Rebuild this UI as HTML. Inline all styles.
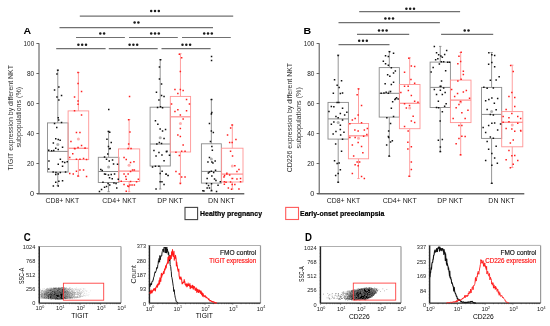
<!DOCTYPE html><html><head><meta charset="utf-8"><style>html,body{margin:0;padding:0;background:#fff;overflow:hidden}svg{display:block;filter:blur(0.35px)}text{font-family:"Liberation Sans",sans-serif}</style></head><body><svg width="550" height="326" viewBox="0 0 550 326" font-family="Liberation Sans, sans-serif">
<rect width="550" height="326" fill="#fff"/>
<line x1="39.00" y1="43.30" x2="39.00" y2="193.80" stroke="#3a3a3a" stroke-width="0.9"/>
<line x1="37.00" y1="193.80" x2="244.30" y2="193.80" stroke="#666" stroke-width="1.4"/>
<line x1="36.40" y1="193.50" x2="39.00" y2="193.50" stroke="#555" stroke-width="0.9"/>
<text x="30.10" y="195.90" font-size="6.6" fill="#222" font-weight="normal" textLength="4.09" lengthAdjust="spacingAndGlyphs">0</text>
<line x1="36.40" y1="163.50" x2="39.00" y2="163.50" stroke="#555" stroke-width="0.9"/>
<text x="27.00" y="165.90" font-size="6.6" fill="#222" font-weight="normal" textLength="7.19" lengthAdjust="spacingAndGlyphs">20</text>
<line x1="36.40" y1="133.50" x2="39.00" y2="133.50" stroke="#555" stroke-width="0.9"/>
<text x="27.00" y="135.90" font-size="6.6" fill="#222" font-weight="normal" textLength="7.19" lengthAdjust="spacingAndGlyphs">40</text>
<line x1="36.40" y1="103.50" x2="39.00" y2="103.50" stroke="#555" stroke-width="0.9"/>
<text x="27.00" y="105.90" font-size="6.6" fill="#222" font-weight="normal" textLength="7.19" lengthAdjust="spacingAndGlyphs">60</text>
<line x1="36.40" y1="73.50" x2="39.00" y2="73.50" stroke="#555" stroke-width="0.9"/>
<text x="27.00" y="75.90" font-size="6.6" fill="#222" font-weight="normal" textLength="7.19" lengthAdjust="spacingAndGlyphs">80</text>
<line x1="36.40" y1="43.50" x2="39.00" y2="43.50" stroke="#555" stroke-width="0.9"/>
<text x="23.60" y="45.90" font-size="6.6" fill="#222" font-weight="normal" textLength="10.59" lengthAdjust="spacingAndGlyphs">100</text>
<text x="23.42" y="34.00" font-size="9.6" fill="#000" font-weight="bold" textLength="7.65" lengthAdjust="spacingAndGlyphs">A</text>
<text transform="translate(12.60,170.42) rotate(-90)" font-size="7.0" fill="#333" textLength="105.34" lengthAdjust="spacingAndGlyphs">TIGIT expression by different NKT</text>
<text transform="translate(21.20,147.43) rotate(-90)" font-size="7.1" fill="#333" textLength="60.45" lengthAdjust="spacingAndGlyphs">subpopulations (%)</text>
<line x1="57.80" y1="70.10" x2="57.80" y2="122.90" stroke="#8a8a8a" stroke-width="0.9"/>
<line x1="57.80" y1="172.00" x2="57.80" y2="185.70" stroke="#8a8a8a" stroke-width="0.9"/>
<line x1="56.60" y1="70.10" x2="59.00" y2="70.10" stroke="#8a8a8a" stroke-width="0.9"/>
<line x1="56.60" y1="185.70" x2="59.00" y2="185.70" stroke="#8a8a8a" stroke-width="0.9"/>
<rect x="47.50" y="122.90" width="20.60" height="49.10" fill="none" stroke="#8a8a8a" stroke-width="0.9"/>
<line x1="47.50" y1="151.40" x2="68.10" y2="151.40" stroke="#8a8a8a" stroke-width="1.0"/>
<circle cx="57.80" cy="144.60" r="1.5" fill="#b0b0b0"/>
<line x1="78.40" y1="72.50" x2="78.40" y2="110.90" stroke="#ff9494" stroke-width="0.9"/>
<line x1="78.40" y1="159.60" x2="78.40" y2="176.20" stroke="#ff9494" stroke-width="0.9"/>
<line x1="77.20" y1="72.50" x2="79.60" y2="72.50" stroke="#ff9494" stroke-width="0.9"/>
<line x1="77.20" y1="176.20" x2="79.60" y2="176.20" stroke="#ff9494" stroke-width="0.9"/>
<rect x="68.10" y="110.90" width="20.60" height="48.70" fill="none" stroke="#ff9494" stroke-width="0.9"/>
<line x1="68.10" y1="148.30" x2="88.70" y2="148.30" stroke="#ff9494" stroke-width="1.3"/>
<circle cx="78.40" cy="139.00" r="1.5" fill="#ffb0b0"/>
<line x1="108.60" y1="131.30" x2="108.60" y2="157.30" stroke="#8a8a8a" stroke-width="0.9"/>
<line x1="108.60" y1="182.50" x2="108.60" y2="191.70" stroke="#8a8a8a" stroke-width="0.9"/>
<line x1="107.40" y1="131.30" x2="109.80" y2="131.30" stroke="#8a8a8a" stroke-width="0.9"/>
<line x1="107.40" y1="191.70" x2="109.80" y2="191.70" stroke="#8a8a8a" stroke-width="0.9"/>
<rect x="98.30" y="157.30" width="20.60" height="25.20" fill="none" stroke="#8a8a8a" stroke-width="0.9"/>
<line x1="98.30" y1="171.50" x2="118.90" y2="171.50" stroke="#8a8a8a" stroke-width="1.0"/>
<circle cx="108.60" cy="166.90" r="1.5" fill="#b0b0b0"/>
<line x1="129.10" y1="119.50" x2="129.10" y2="148.90" stroke="#ff9494" stroke-width="0.9"/>
<line x1="129.10" y1="181.50" x2="129.10" y2="191.70" stroke="#ff9494" stroke-width="0.9"/>
<line x1="127.90" y1="119.50" x2="130.30" y2="119.50" stroke="#ff9494" stroke-width="0.9"/>
<line x1="127.90" y1="191.70" x2="130.30" y2="191.70" stroke="#ff9494" stroke-width="0.9"/>
<rect x="118.50" y="148.90" width="21.20" height="32.60" fill="none" stroke="#ff9494" stroke-width="0.9"/>
<line x1="118.50" y1="171.10" x2="139.70" y2="171.10" stroke="#ff9494" stroke-width="1.3"/>
<circle cx="129.10" cy="165.20" r="1.5" fill="#ffb0b0"/>
<line x1="160.20" y1="59.60" x2="160.20" y2="107.20" stroke="#8a8a8a" stroke-width="0.9"/>
<line x1="160.20" y1="166.00" x2="160.20" y2="189.00" stroke="#8a8a8a" stroke-width="0.9"/>
<line x1="159.00" y1="59.60" x2="161.40" y2="59.60" stroke="#8a8a8a" stroke-width="0.9"/>
<line x1="159.00" y1="189.00" x2="161.40" y2="189.00" stroke="#8a8a8a" stroke-width="0.9"/>
<rect x="150.10" y="107.20" width="20.20" height="58.80" fill="none" stroke="#8a8a8a" stroke-width="0.9"/>
<line x1="150.10" y1="144.00" x2="170.30" y2="144.00" stroke="#8a8a8a" stroke-width="1.0"/>
<circle cx="160.20" cy="137.70" r="1.5" fill="#b0b0b0"/>
<line x1="180.45" y1="53.70" x2="180.45" y2="96.40" stroke="#ff9494" stroke-width="0.9"/>
<line x1="180.45" y1="152.00" x2="180.45" y2="183.00" stroke="#ff9494" stroke-width="0.9"/>
<line x1="179.25" y1="53.70" x2="181.65" y2="53.70" stroke="#ff9494" stroke-width="0.9"/>
<line x1="179.25" y1="183.00" x2="181.65" y2="183.00" stroke="#ff9494" stroke-width="0.9"/>
<rect x="170.30" y="96.40" width="20.30" height="55.60" fill="none" stroke="#ff9494" stroke-width="0.9"/>
<line x1="170.30" y1="116.80" x2="190.60" y2="116.80" stroke="#ff9494" stroke-width="1.3"/>
<circle cx="180.45" cy="123.40" r="1.5" fill="#ffb0b0"/>
<line x1="211.35" y1="99.60" x2="211.35" y2="143.80" stroke="#8a8a8a" stroke-width="0.9"/>
<line x1="211.35" y1="183.10" x2="211.35" y2="191.00" stroke="#8a8a8a" stroke-width="0.9"/>
<line x1="210.15" y1="99.60" x2="212.55" y2="99.60" stroke="#8a8a8a" stroke-width="0.9"/>
<line x1="210.15" y1="191.00" x2="212.55" y2="191.00" stroke="#8a8a8a" stroke-width="0.9"/>
<rect x="201.40" y="143.80" width="19.90" height="39.30" fill="none" stroke="#8a8a8a" stroke-width="0.9"/>
<line x1="201.40" y1="171.40" x2="221.30" y2="171.40" stroke="#8a8a8a" stroke-width="1.0"/>
<circle cx="211.35" cy="159.00" r="1.5" fill="#b0b0b0"/>
<line x1="232.30" y1="125.00" x2="232.30" y2="148.20" stroke="#ff9494" stroke-width="0.9"/>
<line x1="232.30" y1="182.00" x2="232.30" y2="189.00" stroke="#ff9494" stroke-width="0.9"/>
<line x1="231.10" y1="125.00" x2="233.50" y2="125.00" stroke="#ff9494" stroke-width="0.9"/>
<line x1="231.10" y1="189.00" x2="233.50" y2="189.00" stroke="#ff9494" stroke-width="0.9"/>
<rect x="221.60" y="148.20" width="21.40" height="33.80" fill="none" stroke="#ff9494" stroke-width="0.9"/>
<line x1="221.60" y1="174.10" x2="243.00" y2="174.10" stroke="#ff9494" stroke-width="1.3"/>
<circle cx="232.30" cy="165.90" r="1.5" fill="#ffb0b0"/>
<path fill="#111" d="M57.1 69.5h1.5v1.5h-1.5zM56.2 73.2h1.5v1.5h-1.5zM58.1 86.2h1.5v1.5h-1.5zM53.8 89.2h1.5v1.5h-1.5zM56.2 96.2h1.5v1.5h-1.5zM60.8 94.8h1.5v1.5h-1.5zM58.1 99.3h1.5v1.5h-1.5zM57.5 117.0h1.5v1.5h-1.5zM57.9 119.2h1.5v1.5h-1.5zM53.8 122.8h1.5v1.5h-1.5zM60.8 121.8h1.5v1.5h-1.5zM56.0 126.8h1.5v1.5h-1.5zM55.0 137.9h1.5v1.5h-1.5zM57.5 138.8h1.5v1.5h-1.5zM59.4 139.4h1.5v1.5h-1.5zM52.6 142.3h1.5v1.5h-1.5zM61.8 146.4h1.5v1.5h-1.5zM55.0 147.6h1.5v1.5h-1.5zM57.5 148.7h1.5v1.5h-1.5zM50.9 150.1h1.5v1.5h-1.5zM48.0 149.4h1.5v1.5h-1.5zM53.0 149.8h1.5v1.5h-1.5zM59.6 158.6h1.5v1.5h-1.5zM61.8 161.1h1.5v1.5h-1.5zM64.0 161.8h1.5v1.5h-1.5zM66.5 161.1h1.5v1.5h-1.5zM57.5 163.6h1.5v1.5h-1.5zM61.8 165.4h1.5v1.5h-1.5zM48.2 160.3h1.5v1.5h-1.5zM48.0 168.3h1.5v1.5h-1.5zM52.4 171.2h1.5v1.5h-1.5zM55.2 171.7h1.5v1.5h-1.5zM59.6 171.7h1.5v1.5h-1.5zM64.8 171.2h1.5v1.5h-1.5zM55.0 173.8h1.5v1.5h-1.5zM57.5 173.2h1.5v1.5h-1.5zM55.0 181.4h1.5v1.5h-1.5zM58.1 180.4h1.5v1.5h-1.5zM61.8 179.9h1.5v1.5h-1.5zM52.6 185.3h1.5v1.5h-1.5zM57.5 185.3h1.5v1.5h-1.5zM108.0 108.7h1.5v1.5h-1.5zM107.7 130.8h1.5v1.5h-1.5zM109.0 131.6h1.5v1.5h-1.5zM106.2 138.4h1.5v1.5h-1.5zM110.5 141.8h1.5v1.5h-1.5zM107.7 145.8h1.5v1.5h-1.5zM109.5 147.8h1.5v1.5h-1.5zM108.8 147.9h1.5v1.5h-1.5zM107.0 153.3h1.5v1.5h-1.5zM103.8 156.2h1.5v1.5h-1.5zM105.8 158.6h1.5v1.5h-1.5zM108.5 160.3h1.5v1.5h-1.5zM111.8 159.2h1.5v1.5h-1.5zM112.8 163.2h1.5v1.5h-1.5zM116.8 163.6h1.5v1.5h-1.5zM100.0 168.8h1.5v1.5h-1.5zM101.5 169.8h1.5v1.5h-1.5zM103.8 173.2h1.5v1.5h-1.5zM104.8 173.4h1.5v1.5h-1.5zM107.7 174.2h1.5v1.5h-1.5zM110.5 173.8h1.5v1.5h-1.5zM113.8 173.2h1.5v1.5h-1.5zM108.8 177.1h1.5v1.5h-1.5zM111.5 178.1h1.5v1.5h-1.5zM117.5 178.6h1.5v1.5h-1.5zM102.2 181.4h1.5v1.5h-1.5zM107.3 182.8h1.5v1.5h-1.5zM113.2 182.2h1.5v1.5h-1.5zM115.3 182.8h1.5v1.5h-1.5zM109.0 184.3h1.5v1.5h-1.5zM105.8 185.8h1.5v1.5h-1.5zM103.8 186.6h1.5v1.5h-1.5zM116.0 187.2h1.5v1.5h-1.5zM100.8 188.8h1.5v1.5h-1.5zM98.7 190.8h1.5v1.5h-1.5zM159.8 58.9h1.5v1.5h-1.5zM158.7 66.3h1.5v1.5h-1.5zM158.7 78.2h1.5v1.5h-1.5zM160.8 83.3h1.5v1.5h-1.5zM155.7 91.5h1.5v1.5h-1.5zM160.8 94.8h1.5v1.5h-1.5zM163.3 95.8h1.5v1.5h-1.5zM158.2 99.3h1.5v1.5h-1.5zM156.8 106.7h1.5v1.5h-1.5zM161.8 107.0h1.5v1.5h-1.5zM159.8 106.0h1.5v1.5h-1.5zM154.7 120.0h1.5v1.5h-1.5zM157.1 123.5h1.5v1.5h-1.5zM159.4 128.2h1.5v1.5h-1.5zM161.8 130.2h1.5v1.5h-1.5zM164.8 128.7h1.5v1.5h-1.5zM163.3 137.8h1.5v1.5h-1.5zM158.6 141.8h1.5v1.5h-1.5zM156.1 143.2h1.5v1.5h-1.5zM160.8 142.8h1.5v1.5h-1.5zM153.2 149.7h1.5v1.5h-1.5zM166.2 150.6h1.5v1.5h-1.5zM158.2 151.7h1.5v1.5h-1.5zM155.3 155.2h1.5v1.5h-1.5zM161.2 154.2h1.5v1.5h-1.5zM165.6 150.8h1.5v1.5h-1.5zM168.8 154.6h1.5v1.5h-1.5zM163.3 160.1h1.5v1.5h-1.5zM151.8 166.2h1.5v1.5h-1.5zM154.7 165.4h1.5v1.5h-1.5zM158.2 165.4h1.5v1.5h-1.5zM165.9 150.9h1.5v1.5h-1.5zM168.7 154.4h1.5v1.5h-1.5zM165.4 173.3h1.5v1.5h-1.5zM167.4 174.8h1.5v1.5h-1.5zM161.4 170.6h1.5v1.5h-1.5zM159.4 172.8h1.5v1.5h-1.5zM165.2 173.4h1.5v1.5h-1.5zM167.2 174.8h1.5v1.5h-1.5zM159.4 180.9h1.5v1.5h-1.5zM161.2 180.9h1.5v1.5h-1.5zM163.3 183.7h1.5v1.5h-1.5zM155.3 188.2h1.5v1.5h-1.5zM210.8 55.8h1.5v1.5h-1.5zM210.8 59.8h1.5v1.5h-1.5zM210.8 98.8h1.5v1.5h-1.5zM211.1 111.8h1.5v1.5h-1.5zM210.6 113.3h1.5v1.5h-1.5zM208.7 122.8h1.5v1.5h-1.5zM210.6 130.3h1.5v1.5h-1.5zM212.6 131.8h1.5v1.5h-1.5zM209.7 140.8h1.5v1.5h-1.5zM211.1 145.8h1.5v1.5h-1.5zM211.6 149.6h1.5v1.5h-1.5zM208.7 156.8h1.5v1.5h-1.5zM207.2 161.2h1.5v1.5h-1.5zM211.1 161.2h1.5v1.5h-1.5zM214.4 160.2h1.5v1.5h-1.5zM212.2 162.2h1.5v1.5h-1.5zM208.7 171.3h1.5v1.5h-1.5zM210.6 170.4h1.5v1.5h-1.5zM212.9 171.7h1.5v1.5h-1.5zM214.8 169.4h1.5v1.5h-1.5zM207.6 172.3h1.5v1.5h-1.5zM211.1 175.2h1.5v1.5h-1.5zM206.4 177.8h1.5v1.5h-1.5zM213.8 178.2h1.5v1.5h-1.5zM215.2 179.7h1.5v1.5h-1.5zM219.6 181.1h1.5v1.5h-1.5zM205.8 182.8h1.5v1.5h-1.5zM207.8 184.8h1.5v1.5h-1.5zM210.8 182.9h1.5v1.5h-1.5zM217.3 184.4h1.5v1.5h-1.5zM206.4 187.3h1.5v1.5h-1.5zM208.7 187.3h1.5v1.5h-1.5zM202.1 189.9h1.5v1.5h-1.5zM203.2 190.2h1.5v1.5h-1.5zM210.8 189.7h1.5v1.5h-1.5zM215.8 190.8h1.5v1.5h-1.5z"/>
<path fill="#ff2020" d="M77.3 71.8h1.5v1.5h-1.5zM77.3 82.8h1.5v1.5h-1.5zM80.8 90.8h1.5v1.5h-1.5zM73.8 96.2h1.5v1.5h-1.5zM77.3 100.2h1.5v1.5h-1.5zM77.3 103.5h1.5v1.5h-1.5zM73.8 110.0h1.5v1.5h-1.5zM80.8 114.2h1.5v1.5h-1.5zM75.7 131.8h1.5v1.5h-1.5zM79.2 131.8h1.5v1.5h-1.5zM70.2 140.7h1.5v1.5h-1.5zM80.8 144.7h1.5v1.5h-1.5zM73.8 147.8h1.5v1.5h-1.5zM77.3 146.8h1.5v1.5h-1.5zM84.3 147.2h1.5v1.5h-1.5zM74.2 147.9h1.5v1.5h-1.5zM84.3 147.6h1.5v1.5h-1.5zM72.0 153.1h1.5v1.5h-1.5zM69.0 156.8h1.5v1.5h-1.5zM75.7 158.6h1.5v1.5h-1.5zM79.2 158.6h1.5v1.5h-1.5zM82.8 157.8h1.5v1.5h-1.5zM85.8 158.8h1.5v1.5h-1.5zM75.7 170.6h1.5v1.5h-1.5zM79.2 169.3h1.5v1.5h-1.5zM82.8 169.3h1.5v1.5h-1.5zM69.0 172.8h1.5v1.5h-1.5zM72.5 173.2h1.5v1.5h-1.5zM85.8 175.7h1.5v1.5h-1.5zM77.3 175.2h1.5v1.5h-1.5zM128.8 95.8h1.5v1.5h-1.5zM127.9 119.0h1.5v1.5h-1.5zM129.2 131.2h1.5v1.5h-1.5zM127.9 143.2h1.5v1.5h-1.5zM127.4 147.8h1.5v1.5h-1.5zM130.3 147.8h1.5v1.5h-1.5zM123.3 156.8h1.5v1.5h-1.5zM125.5 158.8h1.5v1.5h-1.5zM129.8 161.8h1.5v1.5h-1.5zM133.2 161.1h1.5v1.5h-1.5zM131.8 169.3h1.5v1.5h-1.5zM133.6 169.3h1.5v1.5h-1.5zM129.8 170.8h1.5v1.5h-1.5zM123.3 173.2h1.5v1.5h-1.5zM127.4 173.2h1.5v1.5h-1.5zM125.0 175.7h1.5v1.5h-1.5zM120.5 180.4h1.5v1.5h-1.5zM125.5 178.6h1.5v1.5h-1.5zM129.8 180.8h1.5v1.5h-1.5zM135.8 180.9h1.5v1.5h-1.5zM137.6 178.6h1.5v1.5h-1.5zM123.3 183.7h1.5v1.5h-1.5zM127.0 185.3h1.5v1.5h-1.5zM129.2 184.3h1.5v1.5h-1.5zM131.3 184.3h1.5v1.5h-1.5zM133.6 184.3h1.5v1.5h-1.5zM127.9 185.8h1.5v1.5h-1.5zM125.5 190.6h1.5v1.5h-1.5zM178.6 53.4h1.5v1.5h-1.5zM180.9 56.9h1.5v1.5h-1.5zM179.6 70.8h1.5v1.5h-1.5zM174.2 88.8h1.5v1.5h-1.5zM179.6 88.8h1.5v1.5h-1.5zM182.4 89.7h1.5v1.5h-1.5zM177.1 92.8h1.5v1.5h-1.5zM185.8 98.8h1.5v1.5h-1.5zM170.8 103.2h1.5v1.5h-1.5zM188.7 103.2h1.5v1.5h-1.5zM174.2 110.8h1.5v1.5h-1.5zM177.1 109.0h1.5v1.5h-1.5zM185.8 110.0h1.5v1.5h-1.5zM179.6 114.3h1.5v1.5h-1.5zM182.4 118.2h1.5v1.5h-1.5zM179.6 127.8h1.5v1.5h-1.5zM177.1 134.2h1.5v1.5h-1.5zM179.6 135.8h1.5v1.5h-1.5zM182.4 144.2h1.5v1.5h-1.5zM175.2 151.6h1.5v1.5h-1.5zM180.9 150.6h1.5v1.5h-1.5zM184.3 150.6h1.5v1.5h-1.5zM178.6 154.8h1.5v1.5h-1.5zM175.2 170.8h1.5v1.5h-1.5zM178.6 173.3h1.5v1.5h-1.5zM180.9 176.2h1.5v1.5h-1.5zM184.3 176.2h1.5v1.5h-1.5zM179.6 182.8h1.5v1.5h-1.5zM231.4 124.2h1.5v1.5h-1.5zM229.9 127.2h1.5v1.5h-1.5zM226.8 134.2h1.5v1.5h-1.5zM235.2 138.8h1.5v1.5h-1.5zM228.9 141.8h1.5v1.5h-1.5zM231.4 141.8h1.5v1.5h-1.5zM229.8 150.6h1.5v1.5h-1.5zM231.8 155.3h1.5v1.5h-1.5zM234.1 165.1h1.5v1.5h-1.5zM236.2 170.8h1.5v1.5h-1.5zM238.2 168.8h1.5v1.5h-1.5zM223.8 174.8h1.5v1.5h-1.5zM226.1 173.3h1.5v1.5h-1.5zM228.9 174.2h1.5v1.5h-1.5zM231.4 177.8h1.5v1.5h-1.5zM236.2 178.2h1.5v1.5h-1.5zM239.8 177.8h1.5v1.5h-1.5zM223.6 181.1h1.5v1.5h-1.5zM226.1 172.6h1.5v1.5h-1.5zM223.2 176.2h1.5v1.5h-1.5zM231.8 177.7h1.5v1.5h-1.5zM225.3 181.6h1.5v1.5h-1.5zM229.8 181.2h1.5v1.5h-1.5zM239.8 180.9h1.5v1.5h-1.5zM223.6 183.4h1.5v1.5h-1.5zM231.4 183.8h1.5v1.5h-1.5zM234.1 183.8h1.5v1.5h-1.5zM227.6 187.3h1.5v1.5h-1.5zM230.8 188.6h1.5v1.5h-1.5zM238.2 188.2h1.5v1.5h-1.5z"/>
<text x="45.58" y="202.90" font-size="7.0" fill="#222" font-weight="normal" textLength="33.54" lengthAdjust="spacingAndGlyphs">CD8+ NKT</text>
<text x="102.28" y="202.90" font-size="7.0" fill="#222" font-weight="normal" textLength="33.94" lengthAdjust="spacingAndGlyphs">CD4+ NKT</text>
<text x="157.18" y="202.90" font-size="7.0" fill="#222" font-weight="normal" textLength="25.64" lengthAdjust="spacingAndGlyphs">DP NKT</text>
<text x="207.98" y="202.90" font-size="7.0" fill="#222" font-weight="normal" textLength="26.64" lengthAdjust="spacingAndGlyphs">DN NKT</text>
<line x1="79.80" y1="16.20" x2="233.20" y2="16.20" stroke="#707070" stroke-width="1.2"/>
<circle cx="151.20" cy="11.00" r="1.25" fill="#1a1a1a"/>
<circle cx="155.00" cy="11.00" r="1.25" fill="#1a1a1a"/>
<circle cx="158.80" cy="11.00" r="1.25" fill="#1a1a1a"/>
<line x1="59.50" y1="27.60" x2="213.00" y2="27.60" stroke="#707070" stroke-width="1.2"/>
<circle cx="134.60" cy="22.50" r="1.25" fill="#1a1a1a"/>
<circle cx="138.40" cy="22.50" r="1.25" fill="#1a1a1a"/>
<line x1="76.00" y1="37.50" x2="124.90" y2="37.50" stroke="#707070" stroke-width="1.2"/>
<circle cx="100.30" cy="33.50" r="1.25" fill="#1a1a1a"/>
<circle cx="104.10" cy="33.50" r="1.25" fill="#1a1a1a"/>
<line x1="129.00" y1="37.50" x2="177.80" y2="37.50" stroke="#707070" stroke-width="1.2"/>
<circle cx="151.20" cy="33.50" r="1.25" fill="#1a1a1a"/>
<circle cx="155.00" cy="33.50" r="1.25" fill="#1a1a1a"/>
<circle cx="158.80" cy="33.50" r="1.25" fill="#1a1a1a"/>
<line x1="182.00" y1="37.50" x2="230.80" y2="37.50" stroke="#707070" stroke-width="1.2"/>
<circle cx="204.20" cy="33.50" r="1.25" fill="#1a1a1a"/>
<circle cx="208.00" cy="33.50" r="1.25" fill="#1a1a1a"/>
<circle cx="211.80" cy="33.50" r="1.25" fill="#1a1a1a"/>
<line x1="56.20" y1="48.70" x2="105.60" y2="48.70" stroke="#707070" stroke-width="1.2"/>
<circle cx="78.40" cy="44.70" r="1.25" fill="#1a1a1a"/>
<circle cx="82.20" cy="44.70" r="1.25" fill="#1a1a1a"/>
<circle cx="86.00" cy="44.70" r="1.25" fill="#1a1a1a"/>
<line x1="108.80" y1="48.70" x2="157.70" y2="48.70" stroke="#707070" stroke-width="1.2"/>
<circle cx="129.60" cy="44.70" r="1.25" fill="#1a1a1a"/>
<circle cx="133.40" cy="44.70" r="1.25" fill="#1a1a1a"/>
<circle cx="137.20" cy="44.70" r="1.25" fill="#1a1a1a"/>
<line x1="161.50" y1="48.70" x2="210.60" y2="48.70" stroke="#707070" stroke-width="1.2"/>
<circle cx="182.50" cy="44.70" r="1.25" fill="#1a1a1a"/>
<circle cx="186.30" cy="44.70" r="1.25" fill="#1a1a1a"/>
<circle cx="190.10" cy="44.70" r="1.25" fill="#1a1a1a"/>
<line x1="319.20" y1="43.30" x2="319.20" y2="193.80" stroke="#3a3a3a" stroke-width="0.9"/>
<line x1="317.20" y1="193.80" x2="524.30" y2="193.80" stroke="#666" stroke-width="1.4"/>
<line x1="316.60" y1="193.50" x2="319.20" y2="193.50" stroke="#555" stroke-width="0.9"/>
<text x="310.30" y="195.90" font-size="6.6" fill="#222" font-weight="normal" textLength="4.09" lengthAdjust="spacingAndGlyphs">0</text>
<line x1="316.60" y1="163.50" x2="319.20" y2="163.50" stroke="#555" stroke-width="0.9"/>
<text x="307.20" y="165.90" font-size="6.6" fill="#222" font-weight="normal" textLength="7.19" lengthAdjust="spacingAndGlyphs">20</text>
<line x1="316.60" y1="133.50" x2="319.20" y2="133.50" stroke="#555" stroke-width="0.9"/>
<text x="307.20" y="135.90" font-size="6.6" fill="#222" font-weight="normal" textLength="7.19" lengthAdjust="spacingAndGlyphs">40</text>
<line x1="316.60" y1="103.50" x2="319.20" y2="103.50" stroke="#555" stroke-width="0.9"/>
<text x="307.20" y="105.90" font-size="6.6" fill="#222" font-weight="normal" textLength="7.19" lengthAdjust="spacingAndGlyphs">60</text>
<line x1="316.60" y1="73.50" x2="319.20" y2="73.50" stroke="#555" stroke-width="0.9"/>
<text x="307.20" y="75.90" font-size="6.6" fill="#222" font-weight="normal" textLength="7.19" lengthAdjust="spacingAndGlyphs">80</text>
<line x1="316.60" y1="43.50" x2="319.20" y2="43.50" stroke="#555" stroke-width="0.9"/>
<text x="303.80" y="45.90" font-size="6.6" fill="#222" font-weight="normal" textLength="10.59" lengthAdjust="spacingAndGlyphs">100</text>
<text x="303.62" y="34.00" font-size="9.6" fill="#000" font-weight="bold" textLength="7.65" lengthAdjust="spacingAndGlyphs">B</text>
<text transform="translate(292.40,172.32) rotate(-90)" font-size="7.0" fill="#333" textLength="109.44" lengthAdjust="spacingAndGlyphs">CD226 expression by different NKT</text>
<text transform="translate(301.20,148.43) rotate(-90)" font-size="7.1" fill="#333" textLength="61.25" lengthAdjust="spacingAndGlyphs">subpopulations (%)</text>
<line x1="338.20" y1="55.10" x2="338.20" y2="102.40" stroke="#8a8a8a" stroke-width="0.9"/>
<line x1="338.20" y1="139.10" x2="338.20" y2="182.20" stroke="#8a8a8a" stroke-width="0.9"/>
<line x1="337.00" y1="55.10" x2="339.40" y2="55.10" stroke="#8a8a8a" stroke-width="0.9"/>
<line x1="337.00" y1="182.20" x2="339.40" y2="182.20" stroke="#8a8a8a" stroke-width="0.9"/>
<rect x="328.00" y="102.40" width="20.40" height="36.70" fill="none" stroke="#8a8a8a" stroke-width="0.9"/>
<line x1="328.00" y1="118.90" x2="348.40" y2="118.90" stroke="#8a8a8a" stroke-width="1.0"/>
<circle cx="338.20" cy="122.60" r="1.5" fill="#b0b0b0"/>
<line x1="358.50" y1="88.70" x2="358.50" y2="123.50" stroke="#ff9494" stroke-width="0.9"/>
<line x1="358.50" y1="158.80" x2="358.50" y2="178.50" stroke="#ff9494" stroke-width="0.9"/>
<line x1="357.30" y1="88.70" x2="359.70" y2="88.70" stroke="#ff9494" stroke-width="0.9"/>
<line x1="357.30" y1="178.50" x2="359.70" y2="178.50" stroke="#ff9494" stroke-width="0.9"/>
<rect x="348.40" y="123.50" width="20.20" height="35.30" fill="none" stroke="#ff9494" stroke-width="0.9"/>
<line x1="348.40" y1="135.80" x2="368.60" y2="135.80" stroke="#ff9494" stroke-width="1.3"/>
<circle cx="358.50" cy="138.20" r="1.5" fill="#ffb0b0"/>
<line x1="389.30" y1="51.40" x2="389.30" y2="67.60" stroke="#8a8a8a" stroke-width="0.9"/>
<line x1="389.30" y1="117.10" x2="389.30" y2="156.40" stroke="#8a8a8a" stroke-width="0.9"/>
<line x1="388.10" y1="51.40" x2="390.50" y2="51.40" stroke="#8a8a8a" stroke-width="0.9"/>
<line x1="388.10" y1="156.40" x2="390.50" y2="156.40" stroke="#8a8a8a" stroke-width="0.9"/>
<rect x="379.20" y="67.60" width="20.20" height="49.50" fill="none" stroke="#8a8a8a" stroke-width="0.9"/>
<line x1="379.20" y1="93.30" x2="399.40" y2="93.30" stroke="#8a8a8a" stroke-width="1.0"/>
<circle cx="389.30" cy="92.00" r="1.5" fill="#b0b0b0"/>
<line x1="409.70" y1="57.80" x2="409.70" y2="84.50" stroke="#ff9494" stroke-width="0.9"/>
<line x1="409.70" y1="128.70" x2="409.70" y2="176.30" stroke="#ff9494" stroke-width="0.9"/>
<line x1="408.50" y1="57.80" x2="410.90" y2="57.80" stroke="#ff9494" stroke-width="0.9"/>
<line x1="408.50" y1="176.30" x2="410.90" y2="176.30" stroke="#ff9494" stroke-width="0.9"/>
<rect x="399.40" y="84.50" width="20.60" height="44.20" fill="none" stroke="#ff9494" stroke-width="0.9"/>
<line x1="399.40" y1="103.30" x2="420.00" y2="103.30" stroke="#ff9494" stroke-width="1.3"/>
<circle cx="409.70" cy="107.90" r="1.5" fill="#ffb0b0"/>
<line x1="440.25" y1="46.40" x2="440.25" y2="62.10" stroke="#8a8a8a" stroke-width="0.9"/>
<line x1="440.25" y1="107.50" x2="440.25" y2="151.80" stroke="#8a8a8a" stroke-width="0.9"/>
<line x1="439.05" y1="46.40" x2="441.45" y2="46.40" stroke="#8a8a8a" stroke-width="0.9"/>
<line x1="439.05" y1="151.80" x2="441.45" y2="151.80" stroke="#8a8a8a" stroke-width="0.9"/>
<rect x="430.10" y="62.10" width="20.30" height="45.40" fill="none" stroke="#8a8a8a" stroke-width="0.9"/>
<line x1="430.10" y1="87.40" x2="450.40" y2="87.40" stroke="#8a8a8a" stroke-width="1.0"/>
<circle cx="440.25" cy="86.70" r="1.5" fill="#b0b0b0"/>
<line x1="460.70" y1="52.50" x2="460.70" y2="80.10" stroke="#ff9494" stroke-width="0.9"/>
<line x1="460.70" y1="122.60" x2="460.70" y2="155.00" stroke="#ff9494" stroke-width="0.9"/>
<line x1="459.50" y1="52.50" x2="461.90" y2="52.50" stroke="#ff9494" stroke-width="0.9"/>
<line x1="459.50" y1="155.00" x2="461.90" y2="155.00" stroke="#ff9494" stroke-width="0.9"/>
<rect x="450.40" y="80.10" width="20.60" height="42.50" fill="none" stroke="#ff9494" stroke-width="0.9"/>
<line x1="450.40" y1="100.10" x2="471.00" y2="100.10" stroke="#ff9494" stroke-width="1.3"/>
<circle cx="460.70" cy="102.00" r="1.5" fill="#ffb0b0"/>
<line x1="491.60" y1="52.50" x2="491.60" y2="87.40" stroke="#8a8a8a" stroke-width="0.9"/>
<line x1="491.60" y1="138.40" x2="491.60" y2="183.40" stroke="#8a8a8a" stroke-width="0.9"/>
<line x1="490.40" y1="52.50" x2="492.80" y2="52.50" stroke="#8a8a8a" stroke-width="0.9"/>
<line x1="490.40" y1="183.40" x2="492.80" y2="183.40" stroke="#8a8a8a" stroke-width="0.9"/>
<rect x="481.50" y="87.40" width="20.20" height="51.00" fill="none" stroke="#8a8a8a" stroke-width="0.9"/>
<line x1="481.50" y1="114.40" x2="501.70" y2="114.40" stroke="#8a8a8a" stroke-width="1.0"/>
<circle cx="491.60" cy="111.60" r="1.5" fill="#b0b0b0"/>
<line x1="512.25" y1="65.20" x2="512.25" y2="111.60" stroke="#ff9494" stroke-width="0.9"/>
<line x1="512.25" y1="146.80" x2="512.25" y2="167.40" stroke="#ff9494" stroke-width="0.9"/>
<line x1="511.05" y1="65.20" x2="513.45" y2="65.20" stroke="#ff9494" stroke-width="0.9"/>
<line x1="511.05" y1="167.40" x2="513.45" y2="167.40" stroke="#ff9494" stroke-width="0.9"/>
<rect x="501.70" y="111.60" width="21.10" height="35.20" fill="none" stroke="#ff9494" stroke-width="0.9"/>
<line x1="501.70" y1="122.30" x2="522.80" y2="122.30" stroke="#ff9494" stroke-width="1.3"/>
<circle cx="512.25" cy="125.00" r="1.5" fill="#ffb0b0"/>
<path fill="#111" d="M337.4 54.8h1.5v1.5h-1.5zM333.8 79.0h1.5v1.5h-1.5zM340.8 80.0h1.5v1.5h-1.5zM336.4 84.5h1.5v1.5h-1.5zM338.4 86.8h1.5v1.5h-1.5zM332.6 92.5h1.5v1.5h-1.5zM339.6 92.8h1.5v1.5h-1.5zM341.8 92.2h1.5v1.5h-1.5zM338.1 101.8h1.5v1.5h-1.5zM336.4 101.8h1.5v1.5h-1.5zM330.6 105.7h1.5v1.5h-1.5zM333.1 106.0h1.5v1.5h-1.5zM341.8 107.5h1.5v1.5h-1.5zM328.2 110.8h1.5v1.5h-1.5zM339.6 112.7h1.5v1.5h-1.5zM346.1 111.5h1.5v1.5h-1.5zM343.9 114.3h1.5v1.5h-1.5zM335.2 115.8h1.5v1.5h-1.5zM337.4 117.0h1.5v1.5h-1.5zM341.8 119.2h1.5v1.5h-1.5zM330.6 123.5h1.5v1.5h-1.5zM333.1 121.3h1.5v1.5h-1.5zM339.6 124.5h1.5v1.5h-1.5zM335.2 130.8h1.5v1.5h-1.5zM339.6 128.7h1.5v1.5h-1.5zM343.2 131.6h1.5v1.5h-1.5zM332.4 133.2h1.5v1.5h-1.5zM339.9 134.2h1.5v1.5h-1.5zM341.8 138.4h1.5v1.5h-1.5zM334.9 143.2h1.5v1.5h-1.5zM340.8 150.6h1.5v1.5h-1.5zM333.8 159.9h1.5v1.5h-1.5zM336.4 162.8h1.5v1.5h-1.5zM338.4 162.2h1.5v1.5h-1.5zM339.6 168.9h1.5v1.5h-1.5zM334.9 174.8h1.5v1.5h-1.5zM337.4 172.8h1.5v1.5h-1.5zM337.4 181.6h1.5v1.5h-1.5zM388.8 51.0h1.5v1.5h-1.5zM392.8 52.5h1.5v1.5h-1.5zM384.8 55.0h1.5v1.5h-1.5zM387.6 55.8h1.5v1.5h-1.5zM382.6 60.5h1.5v1.5h-1.5zM384.8 63.0h1.5v1.5h-1.5zM387.6 64.5h1.5v1.5h-1.5zM390.6 67.0h1.5v1.5h-1.5zM386.9 74.0h1.5v1.5h-1.5zM389.1 75.5h1.5v1.5h-1.5zM394.6 70.3h1.5v1.5h-1.5zM392.8 72.2h1.5v1.5h-1.5zM384.4 83.0h1.5v1.5h-1.5zM390.6 83.8h1.5v1.5h-1.5zM392.8 81.5h1.5v1.5h-1.5zM380.4 92.5h1.5v1.5h-1.5zM383.2 92.2h1.5v1.5h-1.5zM385.4 91.5h1.5v1.5h-1.5zM387.6 92.5h1.5v1.5h-1.5zM389.8 90.8h1.5v1.5h-1.5zM395.8 97.0h1.5v1.5h-1.5zM397.4 98.2h1.5v1.5h-1.5zM391.9 101.0h1.5v1.5h-1.5zM394.1 98.8h1.5v1.5h-1.5zM390.6 107.5h1.5v1.5h-1.5zM394.9 98.0h1.5v1.5h-1.5zM386.1 117.0h1.5v1.5h-1.5zM392.8 115.8h1.5v1.5h-1.5zM389.8 122.8h1.5v1.5h-1.5zM387.9 130.3h1.5v1.5h-1.5zM387.6 135.8h1.5v1.5h-1.5zM387.9 136.8h1.5v1.5h-1.5zM389.8 141.3h1.5v1.5h-1.5zM391.6 139.9h1.5v1.5h-1.5zM385.9 144.2h1.5v1.5h-1.5zM388.4 155.3h1.5v1.5h-1.5zM433.6 45.8h1.5v1.5h-1.5zM445.9 49.8h1.5v1.5h-1.5zM435.8 52.0h1.5v1.5h-1.5zM437.9 54.0h1.5v1.5h-1.5zM440.1 55.2h1.5v1.5h-1.5zM441.6 56.5h1.5v1.5h-1.5zM443.9 53.8h1.5v1.5h-1.5zM434.9 58.9h1.5v1.5h-1.5zM437.1 57.9h1.5v1.5h-1.5zM438.6 63.2h1.5v1.5h-1.5zM440.6 61.0h1.5v1.5h-1.5zM442.9 61.0h1.5v1.5h-1.5zM446.9 61.4h1.5v1.5h-1.5zM448.8 61.4h1.5v1.5h-1.5zM432.4 66.8h1.5v1.5h-1.5zM430.4 71.2h1.5v1.5h-1.5zM444.9 70.0h1.5v1.5h-1.5zM440.8 80.2h1.5v1.5h-1.5zM440.1 85.5h1.5v1.5h-1.5zM433.6 88.8h1.5v1.5h-1.5zM439.6 85.8h1.5v1.5h-1.5zM442.9 87.3h1.5v1.5h-1.5zM439.6 89.5h1.5v1.5h-1.5zM435.8 93.8h1.5v1.5h-1.5zM441.6 93.8h1.5v1.5h-1.5zM444.4 91.8h1.5v1.5h-1.5zM437.6 100.5h1.5v1.5h-1.5zM445.4 103.0h1.5v1.5h-1.5zM443.9 105.5h1.5v1.5h-1.5zM435.8 106.7h1.5v1.5h-1.5zM437.9 107.0h1.5v1.5h-1.5zM441.6 111.0h1.5v1.5h-1.5zM439.4 120.3h1.5v1.5h-1.5zM437.6 139.6h1.5v1.5h-1.5zM441.6 138.7h1.5v1.5h-1.5zM439.6 146.3h1.5v1.5h-1.5zM439.6 150.8h1.5v1.5h-1.5zM488.1 51.9h1.5v1.5h-1.5zM491.1 54.1h1.5v1.5h-1.5zM493.9 54.8h1.5v1.5h-1.5zM487.9 63.5h1.5v1.5h-1.5zM491.1 61.8h1.5v1.5h-1.5zM493.9 66.0h1.5v1.5h-1.5zM498.4 76.0h1.5v1.5h-1.5zM495.4 79.2h1.5v1.5h-1.5zM489.6 79.5h1.5v1.5h-1.5zM483.1 86.5h1.5v1.5h-1.5zM486.4 87.5h1.5v1.5h-1.5zM492.6 87.2h1.5v1.5h-1.5zM484.9 100.0h1.5v1.5h-1.5zM488.1 98.8h1.5v1.5h-1.5zM491.1 97.2h1.5v1.5h-1.5zM496.9 97.8h1.5v1.5h-1.5zM493.6 102.5h1.5v1.5h-1.5zM486.4 108.8h1.5v1.5h-1.5zM495.4 109.0h1.5v1.5h-1.5zM489.6 113.8h1.5v1.5h-1.5zM492.6 114.2h1.5v1.5h-1.5zM491.1 122.5h1.5v1.5h-1.5zM493.9 122.2h1.5v1.5h-1.5zM499.8 123.3h1.5v1.5h-1.5zM487.9 124.8h1.5v1.5h-1.5zM482.4 126.8h1.5v1.5h-1.5zM496.9 129.2h1.5v1.5h-1.5zM484.9 131.7h1.5v1.5h-1.5zM489.6 136.3h1.5v1.5h-1.5zM492.6 137.6h1.5v1.5h-1.5zM486.4 140.8h1.5v1.5h-1.5zM495.4 145.6h1.5v1.5h-1.5zM487.9 148.4h1.5v1.5h-1.5zM491.1 152.8h1.5v1.5h-1.5zM493.9 157.2h1.5v1.5h-1.5zM484.9 159.7h1.5v1.5h-1.5zM496.6 162.6h1.5v1.5h-1.5zM491.1 164.4h1.5v1.5h-1.5zM491.1 182.6h1.5v1.5h-1.5z"/>
<path fill="#ff2020" d="M357.8 88.2h1.5v1.5h-1.5zM356.4 94.0h1.5v1.5h-1.5zM360.8 104.7h1.5v1.5h-1.5zM357.4 114.3h1.5v1.5h-1.5zM351.6 119.2h1.5v1.5h-1.5zM354.4 117.8h1.5v1.5h-1.5zM360.8 122.0h1.5v1.5h-1.5zM349.1 123.0h1.5v1.5h-1.5zM354.1 129.3h1.5v1.5h-1.5zM357.4 130.3h1.5v1.5h-1.5zM363.6 129.3h1.5v1.5h-1.5zM366.6 127.8h1.5v1.5h-1.5zM366.1 133.8h1.5v1.5h-1.5zM349.1 136.7h1.5v1.5h-1.5zM354.4 136.7h1.5v1.5h-1.5zM362.9 135.6h1.5v1.5h-1.5zM357.4 141.8h1.5v1.5h-1.5zM351.6 144.2h1.5v1.5h-1.5zM360.8 145.8h1.5v1.5h-1.5zM362.1 151.9h1.5v1.5h-1.5zM352.9 155.3h1.5v1.5h-1.5zM356.4 161.2h1.5v1.5h-1.5zM358.9 161.2h1.5v1.5h-1.5zM354.4 164.1h1.5v1.5h-1.5zM357.4 165.1h1.5v1.5h-1.5zM351.6 172.8h1.5v1.5h-1.5zM360.8 175.7h1.5v1.5h-1.5zM363.6 177.8h1.5v1.5h-1.5zM408.1 57.5h1.5v1.5h-1.5zM410.6 65.2h1.5v1.5h-1.5zM413.9 65.8h1.5v1.5h-1.5zM403.8 71.5h1.5v1.5h-1.5zM410.2 78.8h1.5v1.5h-1.5zM413.9 82.5h1.5v1.5h-1.5zM403.8 85.5h1.5v1.5h-1.5zM407.4 85.5h1.5v1.5h-1.5zM407.4 85.5h1.5v1.5h-1.5zM407.6 89.8h1.5v1.5h-1.5zM400.1 91.8h1.5v1.5h-1.5zM410.6 94.7h1.5v1.5h-1.5zM413.9 100.5h1.5v1.5h-1.5zM417.2 101.5h1.5v1.5h-1.5zM403.8 103.0h1.5v1.5h-1.5zM408.8 104.8h1.5v1.5h-1.5zM405.6 107.2h1.5v1.5h-1.5zM412.4 115.5h1.5v1.5h-1.5zM410.6 120.3h1.5v1.5h-1.5zM413.9 121.8h1.5v1.5h-1.5zM403.8 125.8h1.5v1.5h-1.5zM407.4 130.3h1.5v1.5h-1.5zM407.1 141.6h1.5v1.5h-1.5zM410.6 145.9h1.5v1.5h-1.5zM407.1 148.2h1.5v1.5h-1.5zM410.6 161.3h1.5v1.5h-1.5zM410.6 168.8h1.5v1.5h-1.5zM408.4 175.6h1.5v1.5h-1.5zM460.4 51.6h1.5v1.5h-1.5zM458.2 55.5h1.5v1.5h-1.5zM459.9 60.8h1.5v1.5h-1.5zM457.1 62.9h1.5v1.5h-1.5zM462.6 70.5h1.5v1.5h-1.5zM462.6 73.8h1.5v1.5h-1.5zM457.1 80.2h1.5v1.5h-1.5zM460.4 78.5h1.5v1.5h-1.5zM450.9 88.8h1.5v1.5h-1.5zM456.8 92.8h1.5v1.5h-1.5zM462.6 91.2h1.5v1.5h-1.5zM465.6 89.8h1.5v1.5h-1.5zM453.9 95.7h1.5v1.5h-1.5zM468.8 97.5h1.5v1.5h-1.5zM459.8 100.8h1.5v1.5h-1.5zM458.2 103.8h1.5v1.5h-1.5zM455.4 107.0h1.5v1.5h-1.5zM467.2 109.5h1.5v1.5h-1.5zM461.1 112.0h1.5v1.5h-1.5zM452.4 117.8h1.5v1.5h-1.5zM464.4 117.8h1.5v1.5h-1.5zM458.2 124.8h1.5v1.5h-1.5zM461.1 124.8h1.5v1.5h-1.5zM461.1 135.4h1.5v1.5h-1.5zM464.4 135.8h1.5v1.5h-1.5zM458.2 137.7h1.5v1.5h-1.5zM455.4 142.9h1.5v1.5h-1.5zM459.8 154.1h1.5v1.5h-1.5zM509.9 64.7h1.5v1.5h-1.5zM512.5 70.8h1.5v1.5h-1.5zM511.1 91.7h1.5v1.5h-1.5zM508.2 95.7h1.5v1.5h-1.5zM514.0 96.8h1.5v1.5h-1.5zM514.0 105.8h1.5v1.5h-1.5zM505.4 108.8h1.5v1.5h-1.5zM511.1 112.8h1.5v1.5h-1.5zM502.4 115.7h1.5v1.5h-1.5zM508.2 117.0h1.5v1.5h-1.5zM517.0 115.7h1.5v1.5h-1.5zM519.9 117.8h1.5v1.5h-1.5zM502.4 121.5h1.5v1.5h-1.5zM508.2 121.0h1.5v1.5h-1.5zM517.0 122.5h1.5v1.5h-1.5zM505.4 127.7h1.5v1.5h-1.5zM511.1 128.2h1.5v1.5h-1.5zM514.0 130.6h1.5v1.5h-1.5zM519.9 129.8h1.5v1.5h-1.5zM520.1 130.2h1.5v1.5h-1.5zM512.5 139.2h1.5v1.5h-1.5zM509.6 142.2h1.5v1.5h-1.5zM508.2 149.8h1.5v1.5h-1.5zM511.1 154.9h1.5v1.5h-1.5zM514.0 154.7h1.5v1.5h-1.5zM505.4 159.1h1.5v1.5h-1.5zM517.0 159.7h1.5v1.5h-1.5zM512.5 163.4h1.5v1.5h-1.5zM509.6 166.9h1.5v1.5h-1.5z"/>
<text x="326.78" y="202.90" font-size="7.0" fill="#222" font-weight="normal" textLength="33.44" lengthAdjust="spacingAndGlyphs">CD8+ NKT</text>
<text x="382.78" y="202.90" font-size="7.0" fill="#222" font-weight="normal" textLength="34.04" lengthAdjust="spacingAndGlyphs">CD4+ NKT</text>
<text x="437.18" y="202.90" font-size="7.0" fill="#222" font-weight="normal" textLength="25.64" lengthAdjust="spacingAndGlyphs">DP NKT</text>
<text x="488.38" y="202.90" font-size="7.0" fill="#222" font-weight="normal" textLength="26.14" lengthAdjust="spacingAndGlyphs">DN NKT</text>
<line x1="359.20" y1="11.60" x2="460.10" y2="11.60" stroke="#707070" stroke-width="1.2"/>
<circle cx="406.40" cy="8.80" r="1.25" fill="#1a1a1a"/>
<circle cx="410.20" cy="8.80" r="1.25" fill="#1a1a1a"/>
<circle cx="414.00" cy="8.80" r="1.25" fill="#1a1a1a"/>
<line x1="338.50" y1="22.70" x2="439.90" y2="22.70" stroke="#707070" stroke-width="1.2"/>
<circle cx="385.40" cy="18.40" r="1.25" fill="#1a1a1a"/>
<circle cx="389.20" cy="18.40" r="1.25" fill="#1a1a1a"/>
<circle cx="393.00" cy="18.40" r="1.25" fill="#1a1a1a"/>
<line x1="357.00" y1="34.40" x2="409.20" y2="34.40" stroke="#707070" stroke-width="1.2"/>
<circle cx="379.00" cy="30.40" r="1.25" fill="#1a1a1a"/>
<circle cx="382.80" cy="30.40" r="1.25" fill="#1a1a1a"/>
<circle cx="386.60" cy="30.40" r="1.25" fill="#1a1a1a"/>
<line x1="441.10" y1="34.40" x2="493.20" y2="34.40" stroke="#707070" stroke-width="1.2"/>
<circle cx="464.70" cy="30.40" r="1.25" fill="#1a1a1a"/>
<circle cx="468.50" cy="30.40" r="1.25" fill="#1a1a1a"/>
<line x1="338.50" y1="44.70" x2="389.50" y2="44.70" stroke="#707070" stroke-width="1.2"/>
<circle cx="359.20" cy="40.80" r="1.25" fill="#1a1a1a"/>
<circle cx="363.00" cy="40.80" r="1.25" fill="#1a1a1a"/>
<circle cx="366.80" cy="40.80" r="1.25" fill="#1a1a1a"/>
<rect x="185" y="207.4" width="12.6" height="12.2" fill="none" stroke="#444" stroke-width="1.1"/>
<text x="200.07" y="215.90" font-size="7.1" fill="#000" font-weight="bold" textLength="61.95" lengthAdjust="spacingAndGlyphs" stroke="#000" stroke-width="0.2">Healthy pregnancy</text>
<rect x="285.7" y="207.4" width="12.8" height="12.1" fill="none" stroke="#ff5a5a" stroke-width="1.1"/>
<text x="300.07" y="215.90" font-size="7.1" fill="#000" font-weight="bold" textLength="84.35" lengthAdjust="spacingAndGlyphs" stroke="#000" stroke-width="0.2">Early-onset preeclampsia</text>
<text x="23.68" y="241.30" font-size="10.3" fill="#000" font-weight="bold" textLength="6.94" lengthAdjust="spacingAndGlyphs">C</text>
<line x1="39.30" y1="246.50" x2="121.00" y2="246.50" stroke="#9a9a9a" stroke-width="0.8"/>
<line x1="121.00" y1="246.50" x2="121.00" y2="303.10" stroke="#9a9a9a" stroke-width="1.2"/>
<line x1="38.10" y1="246.50" x2="39.30" y2="246.50" stroke="#444" stroke-width="0.5"/>
<line x1="38.10" y1="247.91" x2="39.30" y2="247.91" stroke="#444" stroke-width="0.5"/>
<line x1="38.10" y1="249.33" x2="39.30" y2="249.33" stroke="#444" stroke-width="0.5"/>
<line x1="38.10" y1="250.75" x2="39.30" y2="250.75" stroke="#444" stroke-width="0.5"/>
<line x1="38.10" y1="252.16" x2="39.30" y2="252.16" stroke="#444" stroke-width="0.5"/>
<line x1="38.10" y1="253.57" x2="39.30" y2="253.57" stroke="#444" stroke-width="0.5"/>
<line x1="38.10" y1="254.99" x2="39.30" y2="254.99" stroke="#444" stroke-width="0.5"/>
<line x1="38.10" y1="256.41" x2="39.30" y2="256.41" stroke="#444" stroke-width="0.5"/>
<line x1="38.10" y1="257.82" x2="39.30" y2="257.82" stroke="#444" stroke-width="0.5"/>
<line x1="38.10" y1="259.24" x2="39.30" y2="259.24" stroke="#444" stroke-width="0.5"/>
<line x1="38.10" y1="260.65" x2="39.30" y2="260.65" stroke="#444" stroke-width="0.5"/>
<line x1="38.10" y1="262.06" x2="39.30" y2="262.06" stroke="#444" stroke-width="0.5"/>
<line x1="38.10" y1="263.48" x2="39.30" y2="263.48" stroke="#444" stroke-width="0.5"/>
<line x1="38.10" y1="264.89" x2="39.30" y2="264.89" stroke="#444" stroke-width="0.5"/>
<line x1="38.10" y1="266.31" x2="39.30" y2="266.31" stroke="#444" stroke-width="0.5"/>
<line x1="38.10" y1="267.73" x2="39.30" y2="267.73" stroke="#444" stroke-width="0.5"/>
<line x1="38.10" y1="269.14" x2="39.30" y2="269.14" stroke="#444" stroke-width="0.5"/>
<line x1="38.10" y1="270.56" x2="39.30" y2="270.56" stroke="#444" stroke-width="0.5"/>
<line x1="38.10" y1="271.97" x2="39.30" y2="271.97" stroke="#444" stroke-width="0.5"/>
<line x1="38.10" y1="273.38" x2="39.30" y2="273.38" stroke="#444" stroke-width="0.5"/>
<line x1="38.10" y1="274.80" x2="39.30" y2="274.80" stroke="#444" stroke-width="0.5"/>
<line x1="38.10" y1="276.22" x2="39.30" y2="276.22" stroke="#444" stroke-width="0.5"/>
<line x1="38.10" y1="277.63" x2="39.30" y2="277.63" stroke="#444" stroke-width="0.5"/>
<line x1="38.10" y1="279.05" x2="39.30" y2="279.05" stroke="#444" stroke-width="0.5"/>
<line x1="38.10" y1="280.46" x2="39.30" y2="280.46" stroke="#444" stroke-width="0.5"/>
<line x1="38.10" y1="281.88" x2="39.30" y2="281.88" stroke="#444" stroke-width="0.5"/>
<line x1="38.10" y1="283.29" x2="39.30" y2="283.29" stroke="#444" stroke-width="0.5"/>
<line x1="38.10" y1="284.71" x2="39.30" y2="284.71" stroke="#444" stroke-width="0.5"/>
<line x1="38.10" y1="286.12" x2="39.30" y2="286.12" stroke="#444" stroke-width="0.5"/>
<line x1="38.10" y1="287.54" x2="39.30" y2="287.54" stroke="#444" stroke-width="0.5"/>
<line x1="38.10" y1="288.95" x2="39.30" y2="288.95" stroke="#444" stroke-width="0.5"/>
<line x1="38.10" y1="290.37" x2="39.30" y2="290.37" stroke="#444" stroke-width="0.5"/>
<line x1="38.10" y1="291.78" x2="39.30" y2="291.78" stroke="#444" stroke-width="0.5"/>
<line x1="38.10" y1="293.19" x2="39.30" y2="293.19" stroke="#444" stroke-width="0.5"/>
<line x1="38.10" y1="294.61" x2="39.30" y2="294.61" stroke="#444" stroke-width="0.5"/>
<line x1="38.10" y1="296.03" x2="39.30" y2="296.03" stroke="#444" stroke-width="0.5"/>
<line x1="38.10" y1="297.44" x2="39.30" y2="297.44" stroke="#444" stroke-width="0.5"/>
<line x1="38.10" y1="298.86" x2="39.30" y2="298.86" stroke="#444" stroke-width="0.5"/>
<line x1="38.10" y1="300.27" x2="39.30" y2="300.27" stroke="#444" stroke-width="0.5"/>
<line x1="38.10" y1="301.69" x2="39.30" y2="301.69" stroke="#444" stroke-width="0.5"/>
<line x1="38.10" y1="303.10" x2="39.30" y2="303.10" stroke="#444" stroke-width="0.5"/>
<line x1="39.30" y1="303.10" x2="39.30" y2="304.90" stroke="#444" stroke-width="0.5"/>
<line x1="45.45" y1="303.10" x2="45.45" y2="304.20" stroke="#444" stroke-width="0.5"/>
<line x1="49.05" y1="303.10" x2="49.05" y2="304.20" stroke="#444" stroke-width="0.5"/>
<line x1="51.60" y1="303.10" x2="51.60" y2="304.20" stroke="#444" stroke-width="0.5"/>
<line x1="53.58" y1="303.10" x2="53.58" y2="304.20" stroke="#444" stroke-width="0.5"/>
<line x1="55.19" y1="303.10" x2="55.19" y2="304.20" stroke="#444" stroke-width="0.5"/>
<line x1="56.56" y1="303.10" x2="56.56" y2="304.20" stroke="#444" stroke-width="0.5"/>
<line x1="57.75" y1="303.10" x2="57.75" y2="304.20" stroke="#444" stroke-width="0.5"/>
<line x1="58.79" y1="303.10" x2="58.79" y2="304.20" stroke="#444" stroke-width="0.5"/>
<line x1="59.72" y1="303.10" x2="59.72" y2="304.90" stroke="#444" stroke-width="0.5"/>
<line x1="65.87" y1="303.10" x2="65.87" y2="304.20" stroke="#444" stroke-width="0.5"/>
<line x1="69.47" y1="303.10" x2="69.47" y2="304.20" stroke="#444" stroke-width="0.5"/>
<line x1="72.02" y1="303.10" x2="72.02" y2="304.20" stroke="#444" stroke-width="0.5"/>
<line x1="74.00" y1="303.10" x2="74.00" y2="304.20" stroke="#444" stroke-width="0.5"/>
<line x1="75.62" y1="303.10" x2="75.62" y2="304.20" stroke="#444" stroke-width="0.5"/>
<line x1="76.99" y1="303.10" x2="76.99" y2="304.20" stroke="#444" stroke-width="0.5"/>
<line x1="78.17" y1="303.10" x2="78.17" y2="304.20" stroke="#444" stroke-width="0.5"/>
<line x1="79.22" y1="303.10" x2="79.22" y2="304.20" stroke="#444" stroke-width="0.5"/>
<line x1="80.15" y1="303.10" x2="80.15" y2="304.90" stroke="#444" stroke-width="0.5"/>
<line x1="86.30" y1="303.10" x2="86.30" y2="304.20" stroke="#444" stroke-width="0.5"/>
<line x1="89.90" y1="303.10" x2="89.90" y2="304.20" stroke="#444" stroke-width="0.5"/>
<line x1="92.45" y1="303.10" x2="92.45" y2="304.20" stroke="#444" stroke-width="0.5"/>
<line x1="94.43" y1="303.10" x2="94.43" y2="304.20" stroke="#444" stroke-width="0.5"/>
<line x1="96.04" y1="303.10" x2="96.04" y2="304.20" stroke="#444" stroke-width="0.5"/>
<line x1="97.41" y1="303.10" x2="97.41" y2="304.20" stroke="#444" stroke-width="0.5"/>
<line x1="98.60" y1="303.10" x2="98.60" y2="304.20" stroke="#444" stroke-width="0.5"/>
<line x1="99.64" y1="303.10" x2="99.64" y2="304.20" stroke="#444" stroke-width="0.5"/>
<line x1="100.58" y1="303.10" x2="100.58" y2="304.90" stroke="#444" stroke-width="0.5"/>
<line x1="106.72" y1="303.10" x2="106.72" y2="304.20" stroke="#444" stroke-width="0.5"/>
<line x1="110.32" y1="303.10" x2="110.32" y2="304.20" stroke="#444" stroke-width="0.5"/>
<line x1="112.87" y1="303.10" x2="112.87" y2="304.20" stroke="#444" stroke-width="0.5"/>
<line x1="114.85" y1="303.10" x2="114.85" y2="304.20" stroke="#444" stroke-width="0.5"/>
<line x1="116.47" y1="303.10" x2="116.47" y2="304.20" stroke="#444" stroke-width="0.5"/>
<line x1="117.84" y1="303.10" x2="117.84" y2="304.20" stroke="#444" stroke-width="0.5"/>
<line x1="119.02" y1="303.10" x2="119.02" y2="304.20" stroke="#444" stroke-width="0.5"/>
<line x1="120.07" y1="303.10" x2="120.07" y2="304.20" stroke="#444" stroke-width="0.5"/>
<line x1="39.30" y1="246.50" x2="39.30" y2="303.10" stroke="#222" stroke-width="1.3"/>
<line x1="39.30" y1="303.10" x2="121.00" y2="303.10" stroke="#222" stroke-width="1.3"/>
<text x="35.30" y="248.85" font-size="5.6" text-anchor="end" fill="#222" font-weight="normal" >1024</text>
<text x="35.30" y="263.00" font-size="5.6" text-anchor="end" fill="#222" font-weight="normal" >768</text>
<text x="35.30" y="277.15" font-size="5.6" text-anchor="end" fill="#222" font-weight="normal" >512</text>
<text x="35.30" y="291.30" font-size="5.6" text-anchor="end" fill="#222" font-weight="normal" >256</text>
<text x="35.30" y="305.45" font-size="5.6" text-anchor="end" fill="#222" font-weight="normal" >0</text>
<text x="39.90" y="310.30" font-size="5.9" fill="#222" text-anchor="middle">10<tspan font-size="3.66" dy="-2.2">0</tspan></text>
<text x="60.32" y="310.30" font-size="5.9" fill="#222" text-anchor="middle">10<tspan font-size="3.66" dy="-2.2">1</tspan></text>
<text x="80.75" y="310.30" font-size="5.9" fill="#222" text-anchor="middle">10<tspan font-size="3.66" dy="-2.2">2</tspan></text>
<text x="101.17" y="310.30" font-size="5.9" fill="#222" text-anchor="middle">10<tspan font-size="3.66" dy="-2.2">3</tspan></text>
<text x="121.60" y="310.30" font-size="5.9" fill="#222" text-anchor="middle">10<tspan font-size="3.66" dy="-2.2">4</tspan></text>
<text x="79.80" y="317.70" font-size="6.7" text-anchor="middle" fill="#000" font-weight="normal" >TIGIT</text>
<text transform="translate(23.50,284.02) rotate(-90)" font-size="7.0" fill="#000" textLength="16.34" lengthAdjust="spacingAndGlyphs">SSC-A</text>
<path fill="#000" fill-opacity="0.15" d="M40.30 288.69h0.7v0.7h-0.7zM40.30 290.09h0.7v0.7h-0.7zM40.30 290.79h0.7v0.7h-0.7zM40.30 291.49h0.7v0.7h-0.7zM41.00 290.70h0.7v0.7h-0.7zM42.40 288.43h0.7v0.7h-0.7zM43.10 289.74h0.7v0.7h-0.7zM47.30 287.83h0.7v0.7h-0.7zM48.00 298.94h0.7v0.7h-0.7zM48.70 287.66h0.7v0.7h-0.7zM49.40 287.57h0.7v0.7h-0.7zM50.10 287.50h0.7v0.7h-0.7zM51.50 287.45h0.7v0.7h-0.7zM64.80 299.04h0.7v0.7h-0.7zM69.00 287.24h0.7v0.7h-0.7zM71.10 290.79h0.7v0.7h-0.7zM72.50 298.52h0.7v0.7h-0.7zM73.20 288.74h0.7v0.7h-0.7zM73.90 292.96h0.7v0.7h-0.7zM75.30 288.79h0.7v0.7h-0.7zM76.00 287.41h0.7v0.7h-0.7zM76.00 290.21h0.7v0.7h-0.7zM76.00 292.31h0.7v0.7h-0.7zM76.00 297.91h0.7v0.7h-0.7zM76.70 289.52h0.7v0.7h-0.7zM76.70 290.92h0.7v0.7h-0.7zM76.70 294.42h0.7v0.7h-0.7zM77.40 289.54h0.7v0.7h-0.7zM77.40 290.24h0.7v0.7h-0.7zM77.40 290.94h0.7v0.7h-0.7zM78.10 288.86h0.7v0.7h-0.7zM78.10 289.56h0.7v0.7h-0.7zM78.80 288.17h0.7v0.7h-0.7zM78.80 289.57h0.7v0.7h-0.7zM78.80 291.67h0.7v0.7h-0.7zM79.50 289.59h0.7v0.7h-0.7zM80.20 288.25h0.7v0.7h-0.7zM80.20 288.94h0.7v0.7h-0.7zM80.20 295.24h0.7v0.7h-0.7zM80.90 289.10h0.7v0.7h-0.7zM80.90 291.20h0.7v0.7h-0.7zM80.90 296.10h0.7v0.7h-0.7zM81.60 287.86h0.7v0.7h-0.7zM81.60 293.46h0.7v0.7h-0.7zM81.60 294.86h0.7v0.7h-0.7zM83.00 288.18h0.7v0.7h-0.7zM83.00 289.57h0.7v0.7h-0.7zM83.00 290.97h0.7v0.7h-0.7zM83.00 295.87h0.7v0.7h-0.7zM83.70 288.33h0.7v0.7h-0.7zM83.70 289.03h0.7v0.7h-0.7zM83.70 290.43h0.7v0.7h-0.7zM83.70 293.23h0.7v0.7h-0.7zM84.40 295.49h0.7v0.7h-0.7zM85.10 288.65h0.7v0.7h-0.7zM85.10 290.05h0.7v0.7h-0.7zM85.80 291.61h0.7v0.7h-0.7zM85.80 293.70h0.7v0.7h-0.7zM85.80 295.10h0.7v0.7h-0.7zM86.50 290.36h0.7v0.7h-0.7zM86.50 291.06h0.7v0.7h-0.7zM86.50 293.16h0.7v0.7h-0.7zM87.20 294.72h0.7v0.7h-0.7zM87.90 295.58h0.7v0.7h-0.7zM88.60 292.24h0.7v0.7h-0.7zM88.60 294.33h0.7v0.7h-0.7zM90.00 290.45h0.7v0.7h-0.7z"/>
<path fill="#000" fill-opacity="0.25" d="M40.30 289.39h0.7v0.7h-0.7zM40.30 293.59h0.7v0.7h-0.7zM40.30 297.09h0.7v0.7h-0.7zM41.00 290.00h0.7v0.7h-0.7zM41.00 292.10h0.7v0.7h-0.7zM41.00 297.70h0.7v0.7h-0.7zM41.70 297.62h0.7v0.7h-0.7zM42.40 289.83h0.7v0.7h-0.7zM43.10 292.54h0.7v0.7h-0.7zM43.10 293.24h0.7v0.7h-0.7zM43.10 295.34h0.7v0.7h-0.7zM43.10 296.74h0.7v0.7h-0.7zM43.80 288.26h0.7v0.7h-0.7zM43.80 290.36h0.7v0.7h-0.7zM43.80 291.76h0.7v0.7h-0.7zM43.80 293.86h0.7v0.7h-0.7zM44.50 290.27h0.7v0.7h-0.7zM44.50 291.67h0.7v0.7h-0.7zM45.20 290.19h0.7v0.7h-0.7zM45.90 289.40h0.7v0.7h-0.7zM47.30 289.23h0.7v0.7h-0.7zM48.70 288.36h0.7v0.7h-0.7zM49.40 288.27h0.7v0.7h-0.7zM49.40 298.77h0.7v0.7h-0.7zM50.10 298.70h0.7v0.7h-0.7zM50.80 287.48h0.7v0.7h-0.7zM52.20 288.13h0.7v0.7h-0.7zM53.60 287.39h0.7v0.7h-0.7zM54.30 287.37h0.7v0.7h-0.7zM55.70 287.32h0.7v0.7h-0.7zM55.70 299.22h0.7v0.7h-0.7zM59.90 287.20h0.7v0.7h-0.7zM60.60 287.17h0.7v0.7h-0.7zM63.40 287.11h0.7v0.7h-0.7zM63.40 288.51h0.7v0.7h-0.7zM64.80 290.64h0.7v0.7h-0.7zM65.50 288.56h0.7v0.7h-0.7zM65.50 289.26h0.7v0.7h-0.7zM66.20 287.18h0.7v0.7h-0.7zM66.20 289.28h0.7v0.7h-0.7zM66.90 287.89h0.7v0.7h-0.7zM66.90 288.59h0.7v0.7h-0.7zM66.90 289.29h0.7v0.7h-0.7zM66.90 289.99h0.7v0.7h-0.7zM68.30 290.72h0.7v0.7h-0.7zM68.30 297.72h0.7v0.7h-0.7zM68.30 298.42h0.7v0.7h-0.7zM69.00 289.34h0.7v0.7h-0.7zM69.00 290.74h0.7v0.7h-0.7zM69.00 298.44h0.7v0.7h-0.7zM69.70 287.26h0.7v0.7h-0.7zM69.70 287.96h0.7v0.7h-0.7zM69.70 288.66h0.7v0.7h-0.7zM69.70 291.46h0.7v0.7h-0.7zM69.70 292.86h0.7v0.7h-0.7zM69.70 294.26h0.7v0.7h-0.7zM69.70 295.66h0.7v0.7h-0.7zM70.40 294.27h0.7v0.7h-0.7zM70.40 294.97h0.7v0.7h-0.7zM70.40 295.67h0.7v0.7h-0.7zM71.10 288.69h0.7v0.7h-0.7zM71.10 294.29h0.7v0.7h-0.7zM71.80 288.71h0.7v0.7h-0.7zM71.80 289.41h0.7v0.7h-0.7zM71.80 291.51h0.7v0.7h-0.7zM71.80 295.71h0.7v0.7h-0.7zM72.50 291.52h0.7v0.7h-0.7zM73.20 289.44h0.7v0.7h-0.7zM73.20 291.54h0.7v0.7h-0.7zM73.20 292.94h0.7v0.7h-0.7zM73.20 293.64h0.7v0.7h-0.7zM73.20 294.34h0.7v0.7h-0.7zM73.20 296.44h0.7v0.7h-0.7zM73.20 297.14h0.7v0.7h-0.7zM73.90 294.36h0.7v0.7h-0.7zM73.90 296.46h0.7v0.7h-0.7zM73.90 297.86h0.7v0.7h-0.7zM74.60 288.07h0.7v0.7h-0.7zM74.60 289.47h0.7v0.7h-0.7zM74.60 292.27h0.7v0.7h-0.7zM74.60 296.47h0.7v0.7h-0.7zM74.60 297.87h0.7v0.7h-0.7zM75.30 289.49h0.7v0.7h-0.7zM75.30 294.39h0.7v0.7h-0.7zM75.30 297.19h0.7v0.7h-0.7zM76.00 288.81h0.7v0.7h-0.7zM76.00 297.21h0.7v0.7h-0.7zM76.70 288.82h0.7v0.7h-0.7zM77.40 294.44h0.7v0.7h-0.7zM77.40 297.24h0.7v0.7h-0.7zM78.10 294.46h0.7v0.7h-0.7zM78.80 290.27h0.7v0.7h-0.7zM78.80 290.97h0.7v0.7h-0.7zM78.80 295.17h0.7v0.7h-0.7zM79.50 290.29h0.7v0.7h-0.7zM79.50 292.39h0.7v0.7h-0.7zM79.50 293.09h0.7v0.7h-0.7zM79.50 294.49h0.7v0.7h-0.7zM79.50 295.19h0.7v0.7h-0.7zM80.20 291.74h0.7v0.7h-0.7zM80.20 296.64h0.7v0.7h-0.7zM80.90 291.90h0.7v0.7h-0.7zM80.90 292.60h0.7v0.7h-0.7zM80.90 293.30h0.7v0.7h-0.7zM81.60 291.36h0.7v0.7h-0.7zM81.60 295.56h0.7v0.7h-0.7zM81.60 296.26h0.7v0.7h-0.7zM82.30 290.12h0.7v0.7h-0.7zM82.30 292.22h0.7v0.7h-0.7zM83.00 294.47h0.7v0.7h-0.7zM83.70 291.83h0.7v0.7h-0.7zM83.70 295.33h0.7v0.7h-0.7zM84.40 293.39h0.7v0.7h-0.7zM85.10 295.65h0.7v0.7h-0.7z"/>
<path fill="#000" fill-opacity="0.35" d="M40.30 292.19h0.7v0.7h-0.7zM40.30 294.99h0.7v0.7h-0.7zM40.30 297.79h0.7v0.7h-0.7zM41.00 291.40h0.7v0.7h-0.7zM41.00 292.80h0.7v0.7h-0.7zM41.00 294.20h0.7v0.7h-0.7zM41.00 297.00h0.7v0.7h-0.7zM41.70 289.92h0.7v0.7h-0.7zM41.70 290.62h0.7v0.7h-0.7zM41.70 291.32h0.7v0.7h-0.7zM41.70 295.52h0.7v0.7h-0.7zM41.70 298.32h0.7v0.7h-0.7zM42.40 292.63h0.7v0.7h-0.7zM42.40 294.03h0.7v0.7h-0.7zM42.40 294.73h0.7v0.7h-0.7zM42.40 296.13h0.7v0.7h-0.7zM43.10 291.84h0.7v0.7h-0.7zM43.10 293.94h0.7v0.7h-0.7zM43.10 296.04h0.7v0.7h-0.7zM43.10 298.14h0.7v0.7h-0.7zM43.80 289.66h0.7v0.7h-0.7zM43.80 291.06h0.7v0.7h-0.7zM43.80 293.16h0.7v0.7h-0.7zM43.80 298.06h0.7v0.7h-0.7zM44.50 290.97h0.7v0.7h-0.7zM44.50 292.37h0.7v0.7h-0.7zM44.50 295.17h0.7v0.7h-0.7zM44.50 295.87h0.7v0.7h-0.7zM45.20 290.89h0.7v0.7h-0.7zM45.20 293.69h0.7v0.7h-0.7zM45.20 295.09h0.7v0.7h-0.7zM45.20 297.19h0.7v0.7h-0.7zM45.90 290.10h0.7v0.7h-0.7zM45.90 295.70h0.7v0.7h-0.7zM45.90 298.50h0.7v0.7h-0.7zM46.60 290.02h0.7v0.7h-0.7zM47.30 291.33h0.7v0.7h-0.7zM47.30 296.93h0.7v0.7h-0.7zM47.30 298.33h0.7v0.7h-0.7zM48.00 288.44h0.7v0.7h-0.7zM48.00 289.84h0.7v0.7h-0.7zM48.00 293.34h0.7v0.7h-0.7zM48.70 289.06h0.7v0.7h-0.7zM49.40 288.97h0.7v0.7h-0.7zM49.40 289.67h0.7v0.7h-0.7zM50.10 288.20h0.7v0.7h-0.7zM52.90 290.21h0.7v0.7h-0.7zM53.60 288.09h0.7v0.7h-0.7zM53.60 288.79h0.7v0.7h-0.7zM55.00 287.35h0.7v0.7h-0.7zM56.40 287.30h0.7v0.7h-0.7zM56.40 299.20h0.7v0.7h-0.7zM57.10 299.18h0.7v0.7h-0.7zM58.50 287.24h0.7v0.7h-0.7zM59.20 287.22h0.7v0.7h-0.7zM62.70 287.81h0.7v0.7h-0.7zM62.70 299.01h0.7v0.7h-0.7zM64.10 287.83h0.7v0.7h-0.7zM64.80 289.94h0.7v0.7h-0.7zM64.80 293.44h0.7v0.7h-0.7zM65.50 289.96h0.7v0.7h-0.7zM65.50 290.66h0.7v0.7h-0.7zM66.20 291.38h0.7v0.7h-0.7zM66.20 294.18h0.7v0.7h-0.7zM66.20 296.98h0.7v0.7h-0.7zM66.20 298.38h0.7v0.7h-0.7zM66.90 295.59h0.7v0.7h-0.7zM67.60 288.61h0.7v0.7h-0.7zM67.60 289.31h0.7v0.7h-0.7zM67.60 293.51h0.7v0.7h-0.7zM67.60 297.71h0.7v0.7h-0.7zM68.30 288.62h0.7v0.7h-0.7zM68.30 294.22h0.7v0.7h-0.7zM68.30 295.62h0.7v0.7h-0.7zM69.00 287.94h0.7v0.7h-0.7zM69.00 290.04h0.7v0.7h-0.7zM69.00 292.84h0.7v0.7h-0.7zM69.70 289.36h0.7v0.7h-0.7zM69.70 290.06h0.7v0.7h-0.7zM69.70 296.36h0.7v0.7h-0.7zM70.40 293.57h0.7v0.7h-0.7zM71.10 290.09h0.7v0.7h-0.7zM71.10 297.79h0.7v0.7h-0.7zM71.80 288.01h0.7v0.7h-0.7zM71.80 292.21h0.7v0.7h-0.7zM71.80 295.01h0.7v0.7h-0.7zM72.50 290.12h0.7v0.7h-0.7zM72.50 290.82h0.7v0.7h-0.7zM72.50 293.62h0.7v0.7h-0.7zM72.50 295.02h0.7v0.7h-0.7zM72.50 295.72h0.7v0.7h-0.7zM72.50 296.42h0.7v0.7h-0.7zM72.50 297.82h0.7v0.7h-0.7zM73.20 292.24h0.7v0.7h-0.7zM73.90 290.16h0.7v0.7h-0.7zM73.90 297.16h0.7v0.7h-0.7zM74.60 294.37h0.7v0.7h-0.7zM76.00 290.91h0.7v0.7h-0.7zM76.00 294.41h0.7v0.7h-0.7zM76.00 296.51h0.7v0.7h-0.7zM76.70 293.02h0.7v0.7h-0.7zM76.70 293.72h0.7v0.7h-0.7zM76.70 296.52h0.7v0.7h-0.7zM77.40 291.64h0.7v0.7h-0.7zM77.40 293.74h0.7v0.7h-0.7zM77.40 295.84h0.7v0.7h-0.7zM78.10 292.36h0.7v0.7h-0.7zM78.10 297.26h0.7v0.7h-0.7zM79.50 291.69h0.7v0.7h-0.7zM79.50 297.29h0.7v0.7h-0.7zM80.20 293.14h0.7v0.7h-0.7zM80.20 293.84h0.7v0.7h-0.7zM80.20 294.54h0.7v0.7h-0.7zM80.20 295.94h0.7v0.7h-0.7zM82.30 296.42h0.7v0.7h-0.7z"/>
<path fill="#000" fill-opacity="0.55" d="M40.30 294.29h0.7v0.7h-0.7zM40.30 296.39h0.7v0.7h-0.7zM41.00 293.50h0.7v0.7h-0.7zM41.00 295.60h0.7v0.7h-0.7zM41.70 294.12h0.7v0.7h-0.7zM41.70 296.22h0.7v0.7h-0.7zM42.40 297.53h0.7v0.7h-0.7zM43.10 291.14h0.7v0.7h-0.7zM43.10 297.44h0.7v0.7h-0.7zM45.90 292.90h0.7v0.7h-0.7zM45.90 297.80h0.7v0.7h-0.7zM46.60 292.12h0.7v0.7h-0.7zM46.60 292.82h0.7v0.7h-0.7zM47.30 289.93h0.7v0.7h-0.7zM47.30 292.03h0.7v0.7h-0.7zM48.00 289.14h0.7v0.7h-0.7zM48.70 290.46h0.7v0.7h-0.7zM48.70 291.16h0.7v0.7h-0.7zM49.40 291.77h0.7v0.7h-0.7zM49.40 293.17h0.7v0.7h-0.7zM49.40 297.37h0.7v0.7h-0.7zM50.10 288.90h0.7v0.7h-0.7zM50.10 291.00h0.7v0.7h-0.7zM50.80 288.18h0.7v0.7h-0.7zM50.80 289.58h0.7v0.7h-0.7zM50.80 297.98h0.7v0.7h-0.7zM51.50 291.65h0.7v0.7h-0.7zM51.50 297.25h0.7v0.7h-0.7zM52.20 288.83h0.7v0.7h-0.7zM52.20 289.53h0.7v0.7h-0.7zM52.20 290.23h0.7v0.7h-0.7zM52.20 292.33h0.7v0.7h-0.7zM52.20 296.53h0.7v0.7h-0.7zM52.20 298.63h0.7v0.7h-0.7zM52.90 287.41h0.7v0.7h-0.7zM52.90 293.01h0.7v0.7h-0.7zM52.90 298.61h0.7v0.7h-0.7zM53.60 289.49h0.7v0.7h-0.7zM53.60 297.89h0.7v0.7h-0.7zM54.30 289.47h0.7v0.7h-0.7zM54.30 297.17h0.7v0.7h-0.7zM55.00 289.45h0.7v0.7h-0.7zM55.00 293.65h0.7v0.7h-0.7zM55.70 289.42h0.7v0.7h-0.7zM56.40 288.00h0.7v0.7h-0.7zM56.40 292.20h0.7v0.7h-0.7zM56.40 298.50h0.7v0.7h-0.7zM57.10 292.88h0.7v0.7h-0.7zM57.80 287.26h0.7v0.7h-0.7zM57.80 291.46h0.7v0.7h-0.7zM57.80 297.06h0.7v0.7h-0.7zM57.80 299.16h0.7v0.7h-0.7zM58.50 299.14h0.7v0.7h-0.7zM59.20 292.82h0.7v0.7h-0.7zM59.20 299.12h0.7v0.7h-0.7zM59.90 287.90h0.7v0.7h-0.7zM59.90 289.30h0.7v0.7h-0.7zM59.90 290.00h0.7v0.7h-0.7zM59.90 299.10h0.7v0.7h-0.7zM60.60 290.67h0.7v0.7h-0.7zM60.60 291.37h0.7v0.7h-0.7zM61.30 287.85h0.7v0.7h-0.7zM61.30 289.95h0.7v0.7h-0.7zM62.00 287.83h0.7v0.7h-0.7zM62.00 292.73h0.7v0.7h-0.7zM62.00 296.23h0.7v0.7h-0.7zM62.00 299.03h0.7v0.7h-0.7zM62.70 287.11h0.7v0.7h-0.7zM62.70 289.91h0.7v0.7h-0.7zM63.40 290.61h0.7v0.7h-0.7zM63.40 291.31h0.7v0.7h-0.7zM64.10 288.53h0.7v0.7h-0.7zM64.10 289.93h0.7v0.7h-0.7zM64.10 292.73h0.7v0.7h-0.7zM64.10 294.13h0.7v0.7h-0.7zM64.80 287.84h0.7v0.7h-0.7zM64.80 288.54h0.7v0.7h-0.7zM64.80 295.54h0.7v0.7h-0.7zM64.80 296.94h0.7v0.7h-0.7zM65.50 292.06h0.7v0.7h-0.7zM65.50 293.46h0.7v0.7h-0.7zM66.20 288.58h0.7v0.7h-0.7zM66.20 289.98h0.7v0.7h-0.7zM66.20 292.08h0.7v0.7h-0.7zM66.90 290.69h0.7v0.7h-0.7zM66.90 293.49h0.7v0.7h-0.7zM66.90 296.99h0.7v0.7h-0.7zM66.90 297.69h0.7v0.7h-0.7zM67.60 290.71h0.7v0.7h-0.7zM67.60 292.11h0.7v0.7h-0.7zM67.60 295.61h0.7v0.7h-0.7zM69.00 291.44h0.7v0.7h-0.7zM69.00 295.64h0.7v0.7h-0.7zM69.70 292.16h0.7v0.7h-0.7zM69.70 293.56h0.7v0.7h-0.7zM69.70 294.96h0.7v0.7h-0.7zM70.40 292.87h0.7v0.7h-0.7zM71.10 292.89h0.7v0.7h-0.7zM71.10 295.69h0.7v0.7h-0.7zM71.10 297.09h0.7v0.7h-0.7zM72.50 297.12h0.7v0.7h-0.7zM73.20 295.74h0.7v0.7h-0.7zM74.60 292.97h0.7v0.7h-0.7z"/>
<path fill="#000" fill-opacity="0.45" d="M41.00 294.90h0.7v0.7h-0.7zM41.70 292.02h0.7v0.7h-0.7zM41.70 293.42h0.7v0.7h-0.7zM41.70 296.92h0.7v0.7h-0.7zM42.40 290.53h0.7v0.7h-0.7zM42.40 295.43h0.7v0.7h-0.7zM42.40 296.83h0.7v0.7h-0.7zM43.10 294.64h0.7v0.7h-0.7zM43.80 295.96h0.7v0.7h-0.7zM45.20 289.49h0.7v0.7h-0.7zM45.20 292.29h0.7v0.7h-0.7zM45.20 296.49h0.7v0.7h-0.7zM45.90 288.70h0.7v0.7h-0.7zM45.90 290.80h0.7v0.7h-0.7zM45.90 291.50h0.7v0.7h-0.7zM45.90 296.40h0.7v0.7h-0.7zM46.60 288.62h0.7v0.7h-0.7zM46.60 289.32h0.7v0.7h-0.7zM46.60 290.72h0.7v0.7h-0.7zM46.60 296.32h0.7v0.7h-0.7zM46.60 297.72h0.7v0.7h-0.7zM46.60 298.42h0.7v0.7h-0.7zM47.30 288.53h0.7v0.7h-0.7zM47.30 293.43h0.7v0.7h-0.7zM47.30 294.83h0.7v0.7h-0.7zM48.00 291.24h0.7v0.7h-0.7zM48.70 291.86h0.7v0.7h-0.7zM48.70 293.26h0.7v0.7h-0.7zM49.40 291.07h0.7v0.7h-0.7zM49.40 292.47h0.7v0.7h-0.7zM49.40 295.97h0.7v0.7h-0.7zM49.40 298.07h0.7v0.7h-0.7zM50.10 291.70h0.7v0.7h-0.7zM50.80 293.08h0.7v0.7h-0.7zM51.50 288.15h0.7v0.7h-0.7zM51.50 289.55h0.7v0.7h-0.7zM51.50 290.95h0.7v0.7h-0.7zM52.90 292.31h0.7v0.7h-0.7zM54.30 290.17h0.7v0.7h-0.7zM55.00 290.85h0.7v0.7h-0.7zM55.00 299.25h0.7v0.7h-0.7zM55.70 288.72h0.7v0.7h-0.7zM55.70 290.12h0.7v0.7h-0.7zM55.70 290.82h0.7v0.7h-0.7zM56.40 290.10h0.7v0.7h-0.7zM56.40 291.50h0.7v0.7h-0.7zM57.10 287.98h0.7v0.7h-0.7zM57.10 289.38h0.7v0.7h-0.7zM58.50 288.64h0.7v0.7h-0.7zM59.20 290.02h0.7v0.7h-0.7zM61.30 288.55h0.7v0.7h-0.7zM61.30 299.05h0.7v0.7h-0.7zM64.10 287.13h0.7v0.7h-0.7zM64.10 293.43h0.7v0.7h-0.7zM64.10 294.83h0.7v0.7h-0.7zM64.10 296.23h0.7v0.7h-0.7zM64.10 298.33h0.7v0.7h-0.7zM64.80 292.74h0.7v0.7h-0.7zM64.80 294.14h0.7v0.7h-0.7zM65.50 287.86h0.7v0.7h-0.7zM65.50 295.56h0.7v0.7h-0.7zM66.20 290.68h0.7v0.7h-0.7zM66.20 293.48h0.7v0.7h-0.7zM66.20 295.58h0.7v0.7h-0.7zM66.90 292.09h0.7v0.7h-0.7zM66.90 294.89h0.7v0.7h-0.7zM66.90 298.39h0.7v0.7h-0.7zM67.60 290.01h0.7v0.7h-0.7zM67.60 292.81h0.7v0.7h-0.7zM67.60 298.41h0.7v0.7h-0.7zM68.30 289.32h0.7v0.7h-0.7zM68.30 291.42h0.7v0.7h-0.7zM68.30 292.12h0.7v0.7h-0.7zM68.30 293.52h0.7v0.7h-0.7zM68.30 294.92h0.7v0.7h-0.7zM68.30 296.32h0.7v0.7h-0.7zM68.30 297.02h0.7v0.7h-0.7zM69.00 292.14h0.7v0.7h-0.7zM69.00 293.54h0.7v0.7h-0.7zM69.00 294.94h0.7v0.7h-0.7zM69.00 297.74h0.7v0.7h-0.7zM69.70 297.06h0.7v0.7h-0.7zM70.40 289.37h0.7v0.7h-0.7zM70.40 291.47h0.7v0.7h-0.7zM70.40 292.17h0.7v0.7h-0.7zM70.40 296.37h0.7v0.7h-0.7zM71.10 291.49h0.7v0.7h-0.7zM71.10 293.59h0.7v0.7h-0.7zM71.10 294.99h0.7v0.7h-0.7zM71.10 296.39h0.7v0.7h-0.7zM71.80 290.81h0.7v0.7h-0.7zM71.80 292.91h0.7v0.7h-0.7zM71.80 293.61h0.7v0.7h-0.7zM71.80 294.31h0.7v0.7h-0.7zM71.80 297.11h0.7v0.7h-0.7zM71.80 297.81h0.7v0.7h-0.7zM72.50 292.22h0.7v0.7h-0.7zM72.50 294.32h0.7v0.7h-0.7zM73.90 291.56h0.7v0.7h-0.7zM73.90 292.26h0.7v0.7h-0.7zM73.90 293.66h0.7v0.7h-0.7zM73.90 295.06h0.7v0.7h-0.7zM73.90 295.76h0.7v0.7h-0.7zM74.60 293.67h0.7v0.7h-0.7zM74.60 297.17h0.7v0.7h-0.7zM75.30 292.29h0.7v0.7h-0.7zM75.30 296.49h0.7v0.7h-0.7zM76.70 297.22h0.7v0.7h-0.7zM77.40 292.34h0.7v0.7h-0.7zM77.40 296.54h0.7v0.7h-0.7zM78.10 293.76h0.7v0.7h-0.7zM78.80 293.07h0.7v0.7h-0.7zM78.80 295.87h0.7v0.7h-0.7zM79.50 296.59h0.7v0.7h-0.7z"/>
<path fill="#000" fill-opacity="0.65" d="M41.00 296.30h0.7v0.7h-0.7zM41.70 294.82h0.7v0.7h-0.7zM42.40 293.33h0.7v0.7h-0.7zM43.80 292.46h0.7v0.7h-0.7zM43.80 295.26h0.7v0.7h-0.7zM43.80 296.66h0.7v0.7h-0.7zM43.80 297.36h0.7v0.7h-0.7zM44.50 296.57h0.7v0.7h-0.7zM44.50 297.97h0.7v0.7h-0.7zM45.20 291.59h0.7v0.7h-0.7zM45.20 292.99h0.7v0.7h-0.7zM45.90 295.00h0.7v0.7h-0.7zM46.60 291.42h0.7v0.7h-0.7zM46.60 294.22h0.7v0.7h-0.7zM47.30 290.63h0.7v0.7h-0.7zM47.30 294.13h0.7v0.7h-0.7zM48.00 294.04h0.7v0.7h-0.7zM48.00 297.54h0.7v0.7h-0.7zM48.70 289.76h0.7v0.7h-0.7zM48.70 296.06h0.7v0.7h-0.7zM48.70 297.46h0.7v0.7h-0.7zM49.40 294.57h0.7v0.7h-0.7zM49.40 295.27h0.7v0.7h-0.7zM50.10 289.60h0.7v0.7h-0.7zM50.80 288.88h0.7v0.7h-0.7zM50.80 290.98h0.7v0.7h-0.7zM51.50 288.85h0.7v0.7h-0.7zM51.50 290.25h0.7v0.7h-0.7zM52.90 289.51h0.7v0.7h-0.7zM52.90 297.21h0.7v0.7h-0.7zM53.60 293.69h0.7v0.7h-0.7zM54.30 298.57h0.7v0.7h-0.7zM55.00 288.05h0.7v0.7h-0.7zM55.00 288.75h0.7v0.7h-0.7zM55.00 292.25h0.7v0.7h-0.7zM55.70 288.02h0.7v0.7h-0.7zM55.70 293.62h0.7v0.7h-0.7zM56.40 289.40h0.7v0.7h-0.7zM57.10 288.68h0.7v0.7h-0.7zM57.10 294.28h0.7v0.7h-0.7zM57.10 297.08h0.7v0.7h-0.7zM57.80 290.76h0.7v0.7h-0.7zM57.80 297.76h0.7v0.7h-0.7zM58.50 290.04h0.7v0.7h-0.7zM58.50 290.74h0.7v0.7h-0.7zM58.50 292.14h0.7v0.7h-0.7zM58.50 295.64h0.7v0.7h-0.7zM58.50 297.04h0.7v0.7h-0.7zM59.20 288.62h0.7v0.7h-0.7zM59.20 294.22h0.7v0.7h-0.7zM59.20 297.02h0.7v0.7h-0.7zM59.90 291.40h0.7v0.7h-0.7zM59.90 295.60h0.7v0.7h-0.7zM60.60 287.87h0.7v0.7h-0.7zM60.60 299.07h0.7v0.7h-0.7zM61.30 287.15h0.7v0.7h-0.7zM61.30 289.25h0.7v0.7h-0.7zM62.00 287.13h0.7v0.7h-0.7zM62.00 288.53h0.7v0.7h-0.7zM62.70 296.91h0.7v0.7h-0.7zM63.40 287.81h0.7v0.7h-0.7zM63.40 292.01h0.7v0.7h-0.7zM64.10 289.23h0.7v0.7h-0.7zM64.10 291.33h0.7v0.7h-0.7zM64.10 295.53h0.7v0.7h-0.7zM64.80 289.24h0.7v0.7h-0.7zM64.80 294.84h0.7v0.7h-0.7zM64.80 297.64h0.7v0.7h-0.7zM64.80 298.34h0.7v0.7h-0.7zM65.50 296.26h0.7v0.7h-0.7zM65.50 298.36h0.7v0.7h-0.7zM66.20 292.78h0.7v0.7h-0.7zM66.20 294.88h0.7v0.7h-0.7zM66.90 291.39h0.7v0.7h-0.7zM66.90 292.79h0.7v0.7h-0.7zM66.90 294.19h0.7v0.7h-0.7zM67.60 291.41h0.7v0.7h-0.7zM67.60 294.21h0.7v0.7h-0.7zM67.60 294.91h0.7v0.7h-0.7zM67.60 296.31h0.7v0.7h-0.7zM67.60 297.01h0.7v0.7h-0.7zM68.30 292.82h0.7v0.7h-0.7zM69.00 294.24h0.7v0.7h-0.7zM69.00 296.34h0.7v0.7h-0.7zM69.00 297.04h0.7v0.7h-0.7zM69.70 297.76h0.7v0.7h-0.7zM70.40 297.07h0.7v0.7h-0.7zM70.40 297.77h0.7v0.7h-0.7z"/>
<path fill="#000" fill-opacity="0.75" d="M43.80 294.56h0.7v0.7h-0.7zM44.50 293.07h0.7v0.7h-0.7zM44.50 293.77h0.7v0.7h-0.7zM44.50 294.47h0.7v0.7h-0.7zM44.50 297.27h0.7v0.7h-0.7zM45.20 294.39h0.7v0.7h-0.7zM45.90 292.20h0.7v0.7h-0.7zM45.90 293.60h0.7v0.7h-0.7zM45.90 297.10h0.7v0.7h-0.7zM46.60 293.52h0.7v0.7h-0.7zM47.30 296.23h0.7v0.7h-0.7zM47.30 297.63h0.7v0.7h-0.7zM48.00 290.54h0.7v0.7h-0.7zM48.00 292.64h0.7v0.7h-0.7zM48.70 295.36h0.7v0.7h-0.7zM49.40 296.67h0.7v0.7h-0.7zM50.80 298.68h0.7v0.7h-0.7zM51.50 294.45h0.7v0.7h-0.7zM51.50 298.65h0.7v0.7h-0.7zM52.20 293.73h0.7v0.7h-0.7zM52.90 288.11h0.7v0.7h-0.7zM52.90 290.91h0.7v0.7h-0.7zM52.90 295.11h0.7v0.7h-0.7zM53.60 290.89h0.7v0.7h-0.7zM53.60 292.29h0.7v0.7h-0.7zM53.60 292.99h0.7v0.7h-0.7zM53.60 295.09h0.7v0.7h-0.7zM53.60 295.79h0.7v0.7h-0.7zM54.30 295.77h0.7v0.7h-0.7zM55.00 295.05h0.7v0.7h-0.7zM55.00 296.45h0.7v0.7h-0.7zM55.00 297.85h0.7v0.7h-0.7zM55.70 296.42h0.7v0.7h-0.7zM56.40 292.90h0.7v0.7h-0.7zM57.10 291.48h0.7v0.7h-0.7zM57.80 287.96h0.7v0.7h-0.7zM57.80 289.36h0.7v0.7h-0.7zM58.50 287.94h0.7v0.7h-0.7zM58.50 293.54h0.7v0.7h-0.7zM58.50 294.24h0.7v0.7h-0.7zM59.20 295.62h0.7v0.7h-0.7zM59.20 298.42h0.7v0.7h-0.7zM59.90 288.60h0.7v0.7h-0.7zM59.90 296.30h0.7v0.7h-0.7zM60.60 289.27h0.7v0.7h-0.7zM61.30 291.35h0.7v0.7h-0.7zM61.30 292.75h0.7v0.7h-0.7zM62.00 294.83h0.7v0.7h-0.7zM62.00 296.93h0.7v0.7h-0.7zM62.70 288.51h0.7v0.7h-0.7zM62.70 291.31h0.7v0.7h-0.7zM62.70 294.81h0.7v0.7h-0.7zM63.40 289.21h0.7v0.7h-0.7zM63.40 295.51h0.7v0.7h-0.7zM63.40 297.61h0.7v0.7h-0.7zM64.10 290.63h0.7v0.7h-0.7zM64.10 292.03h0.7v0.7h-0.7zM64.80 291.34h0.7v0.7h-0.7zM64.80 292.04h0.7v0.7h-0.7zM65.50 291.36h0.7v0.7h-0.7zM65.50 292.76h0.7v0.7h-0.7zM65.50 296.96h0.7v0.7h-0.7zM65.50 297.66h0.7v0.7h-0.7zM66.20 296.28h0.7v0.7h-0.7zM66.90 296.29h0.7v0.7h-0.7z"/>
<path fill="#000" fill-opacity="0.85" d="M45.20 295.79h0.7v0.7h-0.7zM45.20 297.89h0.7v0.7h-0.7zM45.90 294.30h0.7v0.7h-0.7zM46.60 295.62h0.7v0.7h-0.7zM47.30 295.53h0.7v0.7h-0.7zM48.00 291.94h0.7v0.7h-0.7zM48.70 292.56h0.7v0.7h-0.7zM49.40 290.37h0.7v0.7h-0.7zM50.10 290.30h0.7v0.7h-0.7zM50.10 292.40h0.7v0.7h-0.7zM50.10 295.20h0.7v0.7h-0.7zM50.80 290.28h0.7v0.7h-0.7zM50.80 291.68h0.7v0.7h-0.7zM50.80 295.88h0.7v0.7h-0.7zM51.50 293.05h0.7v0.7h-0.7zM52.20 294.43h0.7v0.7h-0.7zM52.90 288.81h0.7v0.7h-0.7zM52.90 293.71h0.7v0.7h-0.7zM52.90 295.81h0.7v0.7h-0.7zM52.90 296.51h0.7v0.7h-0.7zM53.60 291.59h0.7v0.7h-0.7zM54.30 288.07h0.7v0.7h-0.7zM54.30 288.77h0.7v0.7h-0.7zM54.30 295.07h0.7v0.7h-0.7zM55.00 290.15h0.7v0.7h-0.7zM55.00 297.15h0.7v0.7h-0.7zM55.70 297.12h0.7v0.7h-0.7zM56.40 294.30h0.7v0.7h-0.7zM56.40 296.40h0.7v0.7h-0.7zM57.10 292.18h0.7v0.7h-0.7zM58.50 289.34h0.7v0.7h-0.7zM58.50 292.84h0.7v0.7h-0.7zM58.50 298.44h0.7v0.7h-0.7zM59.20 287.92h0.7v0.7h-0.7zM59.20 290.72h0.7v0.7h-0.7zM59.20 291.42h0.7v0.7h-0.7zM59.90 293.50h0.7v0.7h-0.7zM60.60 289.97h0.7v0.7h-0.7zM60.60 297.67h0.7v0.7h-0.7zM61.30 292.05h0.7v0.7h-0.7zM62.00 292.03h0.7v0.7h-0.7zM62.00 297.63h0.7v0.7h-0.7zM62.70 292.01h0.7v0.7h-0.7zM63.40 289.91h0.7v0.7h-0.7zM64.80 296.24h0.7v0.7h-0.7zM65.50 294.16h0.7v0.7h-0.7zM65.50 294.86h0.7v0.7h-0.7zM66.20 297.68h0.7v0.7h-0.7z"/>
<path fill="#000" fill-opacity="0.95" d="M46.60 294.92h0.7v0.7h-0.7zM46.60 297.02h0.7v0.7h-0.7zM47.30 292.73h0.7v0.7h-0.7zM48.00 295.44h0.7v0.7h-0.7zM48.00 296.14h0.7v0.7h-0.7zM48.00 296.84h0.7v0.7h-0.7zM48.00 298.24h0.7v0.7h-0.7zM48.70 296.76h0.7v0.7h-0.7zM48.70 298.16h0.7v0.7h-0.7zM50.10 293.80h0.7v0.7h-0.7zM50.80 292.38h0.7v0.7h-0.7zM50.80 295.18h0.7v0.7h-0.7zM51.50 296.55h0.7v0.7h-0.7zM51.50 297.95h0.7v0.7h-0.7zM52.20 295.83h0.7v0.7h-0.7zM52.90 291.61h0.7v0.7h-0.7zM53.60 296.49h0.7v0.7h-0.7zM54.30 290.87h0.7v0.7h-0.7zM54.30 292.97h0.7v0.7h-0.7zM55.00 294.35h0.7v0.7h-0.7zM55.70 295.72h0.7v0.7h-0.7zM56.40 288.70h0.7v0.7h-0.7zM57.10 290.08h0.7v0.7h-0.7zM57.80 288.66h0.7v0.7h-0.7zM57.80 290.06h0.7v0.7h-0.7zM57.80 292.86h0.7v0.7h-0.7zM59.20 289.32h0.7v0.7h-0.7zM59.20 292.12h0.7v0.7h-0.7zM59.90 292.10h0.7v0.7h-0.7zM59.90 292.80h0.7v0.7h-0.7zM59.90 297.70h0.7v0.7h-0.7zM60.60 288.57h0.7v0.7h-0.7zM62.00 289.23h0.7v0.7h-0.7zM62.70 289.21h0.7v0.7h-0.7zM62.70 290.61h0.7v0.7h-0.7zM63.40 294.11h0.7v0.7h-0.7zM64.10 296.93h0.7v0.7h-0.7zM64.10 297.63h0.7v0.7h-0.7z"/>
<path fill="#000" fill-opacity="1.05" d="M48.00 294.74h0.7v0.7h-0.7zM48.70 293.96h0.7v0.7h-0.7zM48.70 294.66h0.7v0.7h-0.7zM49.40 293.87h0.7v0.7h-0.7zM50.10 293.10h0.7v0.7h-0.7zM50.10 294.50h0.7v0.7h-0.7zM50.10 295.90h0.7v0.7h-0.7zM50.10 296.60h0.7v0.7h-0.7zM50.10 297.30h0.7v0.7h-0.7zM50.10 298.00h0.7v0.7h-0.7zM50.80 293.78h0.7v0.7h-0.7zM50.80 294.48h0.7v0.7h-0.7zM50.80 296.58h0.7v0.7h-0.7zM50.80 297.28h0.7v0.7h-0.7zM51.50 292.35h0.7v0.7h-0.7zM51.50 293.75h0.7v0.7h-0.7zM51.50 295.15h0.7v0.7h-0.7zM51.50 295.85h0.7v0.7h-0.7zM52.20 290.93h0.7v0.7h-0.7zM52.20 291.63h0.7v0.7h-0.7zM52.20 293.03h0.7v0.7h-0.7zM52.20 295.13h0.7v0.7h-0.7zM52.20 297.23h0.7v0.7h-0.7zM52.20 297.93h0.7v0.7h-0.7zM52.90 294.41h0.7v0.7h-0.7zM52.90 297.91h0.7v0.7h-0.7zM53.60 290.19h0.7v0.7h-0.7zM53.60 294.39h0.7v0.7h-0.7zM53.60 297.19h0.7v0.7h-0.7zM53.60 298.59h0.7v0.7h-0.7zM54.30 291.57h0.7v0.7h-0.7zM54.30 292.27h0.7v0.7h-0.7zM54.30 293.67h0.7v0.7h-0.7zM54.30 294.37h0.7v0.7h-0.7zM54.30 296.47h0.7v0.7h-0.7zM54.30 297.87h0.7v0.7h-0.7zM55.00 291.55h0.7v0.7h-0.7zM55.00 292.95h0.7v0.7h-0.7zM55.00 295.75h0.7v0.7h-0.7zM55.00 298.55h0.7v0.7h-0.7zM55.70 291.52h0.7v0.7h-0.7zM55.70 292.22h0.7v0.7h-0.7zM55.70 292.92h0.7v0.7h-0.7zM55.70 294.32h0.7v0.7h-0.7zM55.70 295.02h0.7v0.7h-0.7zM55.70 297.82h0.7v0.7h-0.7zM55.70 298.52h0.7v0.7h-0.7zM56.40 290.80h0.7v0.7h-0.7zM56.40 293.60h0.7v0.7h-0.7zM56.40 295.00h0.7v0.7h-0.7zM56.40 295.70h0.7v0.7h-0.7zM56.40 297.10h0.7v0.7h-0.7zM56.40 297.80h0.7v0.7h-0.7zM57.10 290.78h0.7v0.7h-0.7zM57.10 293.58h0.7v0.7h-0.7zM57.10 294.98h0.7v0.7h-0.7zM57.10 295.68h0.7v0.7h-0.7zM57.10 296.38h0.7v0.7h-0.7zM57.10 297.78h0.7v0.7h-0.7zM57.10 298.48h0.7v0.7h-0.7zM57.80 292.16h0.7v0.7h-0.7zM57.80 293.56h0.7v0.7h-0.7zM57.80 294.26h0.7v0.7h-0.7zM57.80 294.96h0.7v0.7h-0.7zM57.80 295.66h0.7v0.7h-0.7zM57.80 296.36h0.7v0.7h-0.7zM57.80 298.46h0.7v0.7h-0.7zM58.50 291.44h0.7v0.7h-0.7zM58.50 294.94h0.7v0.7h-0.7zM58.50 296.34h0.7v0.7h-0.7zM58.50 297.74h0.7v0.7h-0.7zM59.20 293.52h0.7v0.7h-0.7zM59.20 294.92h0.7v0.7h-0.7zM59.20 296.32h0.7v0.7h-0.7zM59.20 297.72h0.7v0.7h-0.7zM59.90 290.70h0.7v0.7h-0.7zM59.90 294.20h0.7v0.7h-0.7zM59.90 294.90h0.7v0.7h-0.7zM59.90 297.00h0.7v0.7h-0.7zM59.90 298.40h0.7v0.7h-0.7zM60.60 292.07h0.7v0.7h-0.7zM60.60 292.77h0.7v0.7h-0.7zM60.60 293.47h0.7v0.7h-0.7zM60.60 294.17h0.7v0.7h-0.7zM60.60 294.87h0.7v0.7h-0.7zM60.60 295.57h0.7v0.7h-0.7zM60.60 296.27h0.7v0.7h-0.7zM60.60 296.97h0.7v0.7h-0.7zM60.60 298.37h0.7v0.7h-0.7zM61.30 290.65h0.7v0.7h-0.7zM61.30 293.45h0.7v0.7h-0.7zM61.30 294.15h0.7v0.7h-0.7zM61.30 294.85h0.7v0.7h-0.7zM61.30 295.55h0.7v0.7h-0.7zM61.30 296.25h0.7v0.7h-0.7zM61.30 296.95h0.7v0.7h-0.7zM61.30 297.65h0.7v0.7h-0.7zM61.30 298.35h0.7v0.7h-0.7zM62.00 289.93h0.7v0.7h-0.7zM62.00 290.63h0.7v0.7h-0.7zM62.00 291.33h0.7v0.7h-0.7zM62.00 293.43h0.7v0.7h-0.7zM62.00 294.13h0.7v0.7h-0.7zM62.00 295.53h0.7v0.7h-0.7zM62.00 298.33h0.7v0.7h-0.7zM62.70 292.71h0.7v0.7h-0.7zM62.70 293.41h0.7v0.7h-0.7zM62.70 294.11h0.7v0.7h-0.7zM62.70 295.51h0.7v0.7h-0.7zM62.70 296.21h0.7v0.7h-0.7zM62.70 297.61h0.7v0.7h-0.7zM62.70 298.31h0.7v0.7h-0.7zM63.40 292.71h0.7v0.7h-0.7zM63.40 293.41h0.7v0.7h-0.7zM63.40 294.81h0.7v0.7h-0.7zM63.40 296.21h0.7v0.7h-0.7zM63.40 296.91h0.7v0.7h-0.7zM63.40 298.31h0.7v0.7h-0.7z"/>
<rect x="63.4" y="283.2" width="40.300000000000004" height="17.0" fill="none" stroke="#ff4040" stroke-width="0.9"/>
<text x="304.88" y="241.30" font-size="10.3" fill="#000" font-weight="bold" textLength="6.94" lengthAdjust="spacingAndGlyphs">D</text>
<line x1="320.50" y1="246.50" x2="401.00" y2="246.50" stroke="#9a9a9a" stroke-width="0.8"/>
<line x1="401.00" y1="246.50" x2="401.00" y2="303.10" stroke="#9a9a9a" stroke-width="1.2"/>
<line x1="319.30" y1="246.50" x2="320.50" y2="246.50" stroke="#444" stroke-width="0.5"/>
<line x1="319.30" y1="247.91" x2="320.50" y2="247.91" stroke="#444" stroke-width="0.5"/>
<line x1="319.30" y1="249.33" x2="320.50" y2="249.33" stroke="#444" stroke-width="0.5"/>
<line x1="319.30" y1="250.75" x2="320.50" y2="250.75" stroke="#444" stroke-width="0.5"/>
<line x1="319.30" y1="252.16" x2="320.50" y2="252.16" stroke="#444" stroke-width="0.5"/>
<line x1="319.30" y1="253.57" x2="320.50" y2="253.57" stroke="#444" stroke-width="0.5"/>
<line x1="319.30" y1="254.99" x2="320.50" y2="254.99" stroke="#444" stroke-width="0.5"/>
<line x1="319.30" y1="256.41" x2="320.50" y2="256.41" stroke="#444" stroke-width="0.5"/>
<line x1="319.30" y1="257.82" x2="320.50" y2="257.82" stroke="#444" stroke-width="0.5"/>
<line x1="319.30" y1="259.24" x2="320.50" y2="259.24" stroke="#444" stroke-width="0.5"/>
<line x1="319.30" y1="260.65" x2="320.50" y2="260.65" stroke="#444" stroke-width="0.5"/>
<line x1="319.30" y1="262.06" x2="320.50" y2="262.06" stroke="#444" stroke-width="0.5"/>
<line x1="319.30" y1="263.48" x2="320.50" y2="263.48" stroke="#444" stroke-width="0.5"/>
<line x1="319.30" y1="264.89" x2="320.50" y2="264.89" stroke="#444" stroke-width="0.5"/>
<line x1="319.30" y1="266.31" x2="320.50" y2="266.31" stroke="#444" stroke-width="0.5"/>
<line x1="319.30" y1="267.73" x2="320.50" y2="267.73" stroke="#444" stroke-width="0.5"/>
<line x1="319.30" y1="269.14" x2="320.50" y2="269.14" stroke="#444" stroke-width="0.5"/>
<line x1="319.30" y1="270.56" x2="320.50" y2="270.56" stroke="#444" stroke-width="0.5"/>
<line x1="319.30" y1="271.97" x2="320.50" y2="271.97" stroke="#444" stroke-width="0.5"/>
<line x1="319.30" y1="273.38" x2="320.50" y2="273.38" stroke="#444" stroke-width="0.5"/>
<line x1="319.30" y1="274.80" x2="320.50" y2="274.80" stroke="#444" stroke-width="0.5"/>
<line x1="319.30" y1="276.22" x2="320.50" y2="276.22" stroke="#444" stroke-width="0.5"/>
<line x1="319.30" y1="277.63" x2="320.50" y2="277.63" stroke="#444" stroke-width="0.5"/>
<line x1="319.30" y1="279.05" x2="320.50" y2="279.05" stroke="#444" stroke-width="0.5"/>
<line x1="319.30" y1="280.46" x2="320.50" y2="280.46" stroke="#444" stroke-width="0.5"/>
<line x1="319.30" y1="281.88" x2="320.50" y2="281.88" stroke="#444" stroke-width="0.5"/>
<line x1="319.30" y1="283.29" x2="320.50" y2="283.29" stroke="#444" stroke-width="0.5"/>
<line x1="319.30" y1="284.71" x2="320.50" y2="284.71" stroke="#444" stroke-width="0.5"/>
<line x1="319.30" y1="286.12" x2="320.50" y2="286.12" stroke="#444" stroke-width="0.5"/>
<line x1="319.30" y1="287.54" x2="320.50" y2="287.54" stroke="#444" stroke-width="0.5"/>
<line x1="319.30" y1="288.95" x2="320.50" y2="288.95" stroke="#444" stroke-width="0.5"/>
<line x1="319.30" y1="290.37" x2="320.50" y2="290.37" stroke="#444" stroke-width="0.5"/>
<line x1="319.30" y1="291.78" x2="320.50" y2="291.78" stroke="#444" stroke-width="0.5"/>
<line x1="319.30" y1="293.19" x2="320.50" y2="293.19" stroke="#444" stroke-width="0.5"/>
<line x1="319.30" y1="294.61" x2="320.50" y2="294.61" stroke="#444" stroke-width="0.5"/>
<line x1="319.30" y1="296.03" x2="320.50" y2="296.03" stroke="#444" stroke-width="0.5"/>
<line x1="319.30" y1="297.44" x2="320.50" y2="297.44" stroke="#444" stroke-width="0.5"/>
<line x1="319.30" y1="298.86" x2="320.50" y2="298.86" stroke="#444" stroke-width="0.5"/>
<line x1="319.30" y1="300.27" x2="320.50" y2="300.27" stroke="#444" stroke-width="0.5"/>
<line x1="319.30" y1="301.69" x2="320.50" y2="301.69" stroke="#444" stroke-width="0.5"/>
<line x1="319.30" y1="303.10" x2="320.50" y2="303.10" stroke="#444" stroke-width="0.5"/>
<line x1="320.50" y1="303.10" x2="320.50" y2="304.90" stroke="#444" stroke-width="0.5"/>
<line x1="326.56" y1="303.10" x2="326.56" y2="304.20" stroke="#444" stroke-width="0.5"/>
<line x1="330.10" y1="303.10" x2="330.10" y2="304.20" stroke="#444" stroke-width="0.5"/>
<line x1="332.62" y1="303.10" x2="332.62" y2="304.20" stroke="#444" stroke-width="0.5"/>
<line x1="334.57" y1="303.10" x2="334.57" y2="304.20" stroke="#444" stroke-width="0.5"/>
<line x1="336.16" y1="303.10" x2="336.16" y2="304.20" stroke="#444" stroke-width="0.5"/>
<line x1="337.51" y1="303.10" x2="337.51" y2="304.20" stroke="#444" stroke-width="0.5"/>
<line x1="338.67" y1="303.10" x2="338.67" y2="304.20" stroke="#444" stroke-width="0.5"/>
<line x1="339.70" y1="303.10" x2="339.70" y2="304.20" stroke="#444" stroke-width="0.5"/>
<line x1="340.62" y1="303.10" x2="340.62" y2="304.90" stroke="#444" stroke-width="0.5"/>
<line x1="346.68" y1="303.10" x2="346.68" y2="304.20" stroke="#444" stroke-width="0.5"/>
<line x1="350.23" y1="303.10" x2="350.23" y2="304.20" stroke="#444" stroke-width="0.5"/>
<line x1="352.74" y1="303.10" x2="352.74" y2="304.20" stroke="#444" stroke-width="0.5"/>
<line x1="354.69" y1="303.10" x2="354.69" y2="304.20" stroke="#444" stroke-width="0.5"/>
<line x1="356.29" y1="303.10" x2="356.29" y2="304.20" stroke="#444" stroke-width="0.5"/>
<line x1="357.63" y1="303.10" x2="357.63" y2="304.20" stroke="#444" stroke-width="0.5"/>
<line x1="358.80" y1="303.10" x2="358.80" y2="304.20" stroke="#444" stroke-width="0.5"/>
<line x1="359.83" y1="303.10" x2="359.83" y2="304.20" stroke="#444" stroke-width="0.5"/>
<line x1="360.75" y1="303.10" x2="360.75" y2="304.90" stroke="#444" stroke-width="0.5"/>
<line x1="366.81" y1="303.10" x2="366.81" y2="304.20" stroke="#444" stroke-width="0.5"/>
<line x1="370.35" y1="303.10" x2="370.35" y2="304.20" stroke="#444" stroke-width="0.5"/>
<line x1="372.87" y1="303.10" x2="372.87" y2="304.20" stroke="#444" stroke-width="0.5"/>
<line x1="374.82" y1="303.10" x2="374.82" y2="304.20" stroke="#444" stroke-width="0.5"/>
<line x1="376.41" y1="303.10" x2="376.41" y2="304.20" stroke="#444" stroke-width="0.5"/>
<line x1="377.76" y1="303.10" x2="377.76" y2="304.20" stroke="#444" stroke-width="0.5"/>
<line x1="378.92" y1="303.10" x2="378.92" y2="304.20" stroke="#444" stroke-width="0.5"/>
<line x1="379.95" y1="303.10" x2="379.95" y2="304.20" stroke="#444" stroke-width="0.5"/>
<line x1="380.88" y1="303.10" x2="380.88" y2="304.90" stroke="#444" stroke-width="0.5"/>
<line x1="386.93" y1="303.10" x2="386.93" y2="304.20" stroke="#444" stroke-width="0.5"/>
<line x1="390.48" y1="303.10" x2="390.48" y2="304.20" stroke="#444" stroke-width="0.5"/>
<line x1="392.99" y1="303.10" x2="392.99" y2="304.20" stroke="#444" stroke-width="0.5"/>
<line x1="394.94" y1="303.10" x2="394.94" y2="304.20" stroke="#444" stroke-width="0.5"/>
<line x1="396.54" y1="303.10" x2="396.54" y2="304.20" stroke="#444" stroke-width="0.5"/>
<line x1="397.88" y1="303.10" x2="397.88" y2="304.20" stroke="#444" stroke-width="0.5"/>
<line x1="399.05" y1="303.10" x2="399.05" y2="304.20" stroke="#444" stroke-width="0.5"/>
<line x1="400.08" y1="303.10" x2="400.08" y2="304.20" stroke="#444" stroke-width="0.5"/>
<line x1="320.50" y1="246.50" x2="320.50" y2="303.10" stroke="#222" stroke-width="1.3"/>
<line x1="320.50" y1="303.10" x2="401.00" y2="303.10" stroke="#222" stroke-width="1.3"/>
<text x="316.50" y="249.95" font-size="5.6" text-anchor="end" fill="#222" font-weight="normal" >1024</text>
<text x="316.50" y="264.10" font-size="5.6" text-anchor="end" fill="#222" font-weight="normal" >768</text>
<text x="316.50" y="278.25" font-size="5.6" text-anchor="end" fill="#222" font-weight="normal" >512</text>
<text x="316.50" y="292.40" font-size="5.6" text-anchor="end" fill="#222" font-weight="normal" >256</text>
<text x="316.50" y="306.55" font-size="5.6" text-anchor="end" fill="#222" font-weight="normal" >0</text>
<text x="321.10" y="311.30" font-size="5.9" fill="#222" text-anchor="middle">10<tspan font-size="3.66" dy="-2.2">0</tspan></text>
<text x="341.23" y="311.30" font-size="5.9" fill="#222" text-anchor="middle">10<tspan font-size="3.66" dy="-2.2">1</tspan></text>
<text x="361.35" y="311.30" font-size="5.9" fill="#222" text-anchor="middle">10<tspan font-size="3.66" dy="-2.2">2</tspan></text>
<text x="381.48" y="311.30" font-size="5.9" fill="#222" text-anchor="middle">10<tspan font-size="3.66" dy="-2.2">3</tspan></text>
<text x="401.60" y="311.30" font-size="5.9" fill="#222" text-anchor="middle">10<tspan font-size="3.66" dy="-2.2">4</tspan></text>
<text x="359.30" y="318.90" font-size="6.7" text-anchor="middle" fill="#000" font-weight="normal" >CD226</text>
<text transform="translate(303.60,281.92) rotate(-90)" font-size="7.0" fill="#000" textLength="15.54" lengthAdjust="spacingAndGlyphs">SSC-A</text>
<path fill="#000" fill-opacity="0.55" d="M323.20 293.68h0.7v0.7h-0.7zM331.60 293.64h0.7v0.7h-0.7zM332.30 292.88h0.7v0.7h-0.7zM333.70 296.96h0.7v0.7h-0.7zM334.40 298.29h0.7v0.7h-0.7zM335.80 293.27h0.7v0.7h-0.7zM340.00 296.40h0.7v0.7h-0.7zM340.00 299.20h0.7v0.7h-0.7zM341.40 297.52h0.7v0.7h-0.7zM343.50 292.90h0.7v0.7h-0.7zM344.20 296.26h0.7v0.7h-0.7zM344.90 293.32h0.7v0.7h-0.7zM344.90 294.72h0.7v0.7h-0.7zM344.90 296.12h0.7v0.7h-0.7zM344.90 299.62h0.7v0.7h-0.7zM345.60 291.78h0.7v0.7h-0.7zM345.60 297.38h0.7v0.7h-0.7zM345.60 298.08h0.7v0.7h-0.7zM345.60 298.78h0.7v0.7h-0.7zM347.00 290.80h0.7v0.7h-0.7zM347.00 297.80h0.7v0.7h-0.7zM347.00 299.90h0.7v0.7h-0.7zM347.70 297.66h0.7v0.7h-0.7zM348.40 291.22h0.7v0.7h-0.7zM348.40 294.72h0.7v0.7h-0.7zM349.10 291.08h0.7v0.7h-0.7zM349.80 299.34h0.7v0.7h-0.7zM350.50 292.20h0.7v0.7h-0.7zM350.50 299.20h0.7v0.7h-0.7zM351.20 299.76h0.7v0.7h-0.7zM351.90 293.32h0.7v0.7h-0.7zM352.60 293.88h0.7v0.7h-0.7zM352.60 294.58h0.7v0.7h-0.7zM352.60 298.78h0.7v0.7h-0.7zM353.30 289.54h0.7v0.7h-0.7zM353.30 293.74h0.7v0.7h-0.7zM353.30 299.34h0.7v0.7h-0.7zM354.00 290.10h0.7v0.7h-0.7zM354.00 297.80h0.7v0.7h-0.7zM354.70 289.26h0.7v0.7h-0.7zM354.70 294.86h0.7v0.7h-0.7zM355.40 289.82h0.7v0.7h-0.7zM355.40 292.62h0.7v0.7h-0.7zM356.10 295.98h0.7v0.7h-0.7zM356.80 288.84h0.7v0.7h-0.7zM358.20 289.26h0.7v0.7h-0.7zM358.90 288.42h0.7v0.7h-0.7zM360.30 299.37h0.7v0.7h-0.7zM361.00 291.60h0.7v0.7h-0.7zM361.00 292.30h0.7v0.7h-0.7zM361.00 299.30h0.7v0.7h-0.7zM362.40 291.46h0.7v0.7h-0.7zM363.10 287.89h0.7v0.7h-0.7zM363.10 288.59h0.7v0.7h-0.7zM363.10 291.39h0.7v0.7h-0.7zM365.20 289.08h0.7v0.7h-0.7zM365.90 288.31h0.7v0.7h-0.7zM366.60 290.34h0.7v0.7h-0.7zM368.00 298.60h0.7v0.7h-0.7zM368.70 287.33h0.7v0.7h-0.7zM370.10 287.91h0.7v0.7h-0.7zM370.10 290.01h0.7v0.7h-0.7zM370.80 287.29h0.7v0.7h-0.7zM370.80 287.99h0.7v0.7h-0.7zM370.80 297.09h0.7v0.7h-0.7zM371.50 293.66h0.7v0.7h-0.7zM371.50 296.46h0.7v0.7h-0.7zM372.20 295.13h0.7v0.7h-0.7zM372.90 289.61h0.7v0.7h-0.7zM373.60 288.28h0.7v0.7h-0.7zM373.60 289.68h0.7v0.7h-0.7zM374.30 291.86h0.7v0.7h-0.7zM374.30 293.96h0.7v0.7h-0.7zM375.70 289.91h0.7v0.7h-0.7zM375.70 291.31h0.7v0.7h-0.7zM375.70 292.71h0.7v0.7h-0.7zM376.40 289.98h0.7v0.7h-0.7z"/>
<path fill="#000" fill-opacity="0.45" d="M326.70 297.57h0.7v0.7h-0.7zM327.40 293.31h0.7v0.7h-0.7zM330.90 297.90h0.7v0.7h-0.7zM332.30 297.08h0.7v0.7h-0.7zM335.10 293.33h0.7v0.7h-0.7zM336.50 298.11h0.7v0.7h-0.7zM339.30 297.86h0.7v0.7h-0.7zM340.70 294.16h0.7v0.7h-0.7zM340.70 298.36h0.7v0.7h-0.7zM341.40 296.12h0.7v0.7h-0.7zM342.80 292.34h0.7v0.7h-0.7zM343.50 291.50h0.7v0.7h-0.7zM343.50 293.60h0.7v0.7h-0.7zM344.20 292.76h0.7v0.7h-0.7zM344.20 295.56h0.7v0.7h-0.7zM344.20 297.66h0.7v0.7h-0.7zM344.90 296.82h0.7v0.7h-0.7zM344.90 298.92h0.7v0.7h-0.7zM346.30 291.64h0.7v0.7h-0.7zM347.00 291.50h0.7v0.7h-0.7zM347.70 293.46h0.7v0.7h-0.7zM347.70 296.26h0.7v0.7h-0.7zM347.70 296.96h0.7v0.7h-0.7zM348.40 290.52h0.7v0.7h-0.7zM348.40 297.52h0.7v0.7h-0.7zM348.40 298.92h0.7v0.7h-0.7zM348.40 299.62h0.7v0.7h-0.7zM349.10 290.38h0.7v0.7h-0.7zM349.10 293.88h0.7v0.7h-0.7zM349.80 291.64h0.7v0.7h-0.7zM349.80 297.94h0.7v0.7h-0.7zM350.50 290.80h0.7v0.7h-0.7zM350.50 293.60h0.7v0.7h-0.7zM350.50 297.80h0.7v0.7h-0.7zM351.20 290.66h0.7v0.7h-0.7zM351.20 292.06h0.7v0.7h-0.7zM351.20 293.46h0.7v0.7h-0.7zM351.90 289.82h0.7v0.7h-0.7zM352.60 299.48h0.7v0.7h-0.7zM353.30 291.64h0.7v0.7h-0.7zM353.30 292.34h0.7v0.7h-0.7zM354.70 299.76h0.7v0.7h-0.7zM355.40 299.62h0.7v0.7h-0.7zM357.50 289.40h0.7v0.7h-0.7zM358.90 299.62h0.7v0.7h-0.7zM359.60 290.38h0.7v0.7h-0.7zM360.30 288.17h0.7v0.7h-0.7zM364.50 287.75h0.7v0.7h-0.7zM364.50 299.65h0.7v0.7h-0.7zM368.00 287.40h0.7v0.7h-0.7zM368.70 288.03h0.7v0.7h-0.7zM370.10 288.61h0.7v0.7h-0.7zM371.50 289.46h0.7v0.7h-0.7zM371.50 290.16h0.7v0.7h-0.7zM372.20 289.53h0.7v0.7h-0.7zM373.60 291.08h0.7v0.7h-0.7zM374.30 289.06h0.7v0.7h-0.7zM374.30 289.76h0.7v0.7h-0.7zM376.40 288.58h0.7v0.7h-0.7zM377.10 288.66h0.7v0.7h-0.7z"/>
<path fill="#000" fill-opacity="0.35" d="M328.10 295.35h0.7v0.7h-0.7zM328.10 296.75h0.7v0.7h-0.7zM328.80 297.39h0.7v0.7h-0.7zM331.60 295.74h0.7v0.7h-0.7zM332.30 295.68h0.7v0.7h-0.7zM334.40 295.49h0.7v0.7h-0.7zM336.50 296.01h0.7v0.7h-0.7zM337.90 297.99h0.7v0.7h-0.7zM340.70 296.26h0.7v0.7h-0.7zM342.10 292.48h0.7v0.7h-0.7zM342.10 295.28h0.7v0.7h-0.7zM343.50 295.70h0.7v0.7h-0.7zM344.20 296.96h0.7v0.7h-0.7zM344.90 298.22h0.7v0.7h-0.7zM345.60 293.18h0.7v0.7h-0.7zM345.60 294.58h0.7v0.7h-0.7zM345.60 295.98h0.7v0.7h-0.7zM345.60 296.68h0.7v0.7h-0.7zM346.30 295.14h0.7v0.7h-0.7zM346.30 296.54h0.7v0.7h-0.7zM346.30 299.34h0.7v0.7h-0.7zM347.70 292.76h0.7v0.7h-0.7zM347.70 294.86h0.7v0.7h-0.7zM347.70 295.56h0.7v0.7h-0.7zM348.40 293.32h0.7v0.7h-0.7zM348.40 296.82h0.7v0.7h-0.7zM349.10 293.18h0.7v0.7h-0.7zM349.10 296.68h0.7v0.7h-0.7zM349.10 299.48h0.7v0.7h-0.7zM349.80 294.44h0.7v0.7h-0.7zM352.60 289.68h0.7v0.7h-0.7zM352.60 291.08h0.7v0.7h-0.7zM357.50 288.70h0.7v0.7h-0.7zM361.00 288.10h0.7v0.7h-0.7zM362.40 287.96h0.7v0.7h-0.7zM367.30 298.67h0.7v0.7h-0.7zM372.90 288.21h0.7v0.7h-0.7zM375.00 293.33h0.7v0.7h-0.7zM376.40 292.08h0.7v0.7h-0.7z"/>
<path fill="#000" fill-opacity="0.25" d="M328.80 293.89h0.7v0.7h-0.7zM336.50 295.31h0.7v0.7h-0.7zM337.20 298.05h0.7v0.7h-0.7zM339.30 295.76h0.7v0.7h-0.7zM340.70 295.56h0.7v0.7h-0.7zM341.40 291.92h0.7v0.7h-0.7zM342.10 293.18h0.7v0.7h-0.7zM342.80 294.44h0.7v0.7h-0.7zM343.50 295.00h0.7v0.7h-0.7zM349.10 291.78h0.7v0.7h-0.7zM350.50 290.10h0.7v0.7h-0.7zM369.40 297.76h0.7v0.7h-0.7zM370.10 287.21h0.7v0.7h-0.7zM372.20 296.53h0.7v0.7h-0.7zM374.30 288.36h0.7v0.7h-0.7zM376.40 291.38h0.7v0.7h-0.7z"/>
<path fill="#000" fill-opacity="0.75" d="M328.80 298.09h0.7v0.7h-0.7zM329.50 298.73h0.7v0.7h-0.7zM337.90 293.79h0.7v0.7h-0.7zM341.40 298.22h0.7v0.7h-0.7zM344.20 298.36h0.7v0.7h-0.7zM346.30 294.44h0.7v0.7h-0.7zM347.00 294.30h0.7v0.7h-0.7zM347.00 296.40h0.7v0.7h-0.7zM347.00 297.10h0.7v0.7h-0.7zM347.70 292.06h0.7v0.7h-0.7zM348.40 298.22h0.7v0.7h-0.7zM349.10 295.28h0.7v0.7h-0.7zM349.80 292.34h0.7v0.7h-0.7zM349.80 293.04h0.7v0.7h-0.7zM349.80 293.74h0.7v0.7h-0.7zM349.80 295.84h0.7v0.7h-0.7zM349.80 298.64h0.7v0.7h-0.7zM350.50 292.90h0.7v0.7h-0.7zM351.20 297.66h0.7v0.7h-0.7zM352.60 297.38h0.7v0.7h-0.7zM353.30 293.04h0.7v0.7h-0.7zM353.30 295.84h0.7v0.7h-0.7zM353.30 297.24h0.7v0.7h-0.7zM354.00 296.40h0.7v0.7h-0.7zM354.70 296.96h0.7v0.7h-0.7zM354.70 297.66h0.7v0.7h-0.7zM354.70 298.36h0.7v0.7h-0.7zM356.10 291.08h0.7v0.7h-0.7zM356.10 299.48h0.7v0.7h-0.7zM358.20 290.66h0.7v0.7h-0.7zM358.90 294.72h0.7v0.7h-0.7zM358.90 295.42h0.7v0.7h-0.7zM358.90 296.12h0.7v0.7h-0.7zM359.60 289.68h0.7v0.7h-0.7zM359.60 291.08h0.7v0.7h-0.7zM360.30 288.87h0.7v0.7h-0.7zM360.30 289.57h0.7v0.7h-0.7zM361.00 289.50h0.7v0.7h-0.7zM361.70 290.83h0.7v0.7h-0.7zM363.10 294.19h0.7v0.7h-0.7zM363.80 292.02h0.7v0.7h-0.7zM365.90 293.21h0.7v0.7h-0.7zM365.90 295.31h0.7v0.7h-0.7zM365.90 298.11h0.7v0.7h-0.7zM366.60 289.64h0.7v0.7h-0.7zM366.60 298.74h0.7v0.7h-0.7zM367.30 288.87h0.7v0.7h-0.7zM367.30 290.27h0.7v0.7h-0.7zM368.00 297.90h0.7v0.7h-0.7zM368.70 292.93h0.7v0.7h-0.7zM368.70 295.03h0.7v0.7h-0.7zM368.70 295.73h0.7v0.7h-0.7zM369.40 287.26h0.7v0.7h-0.7zM369.40 295.66h0.7v0.7h-0.7zM371.50 291.56h0.7v0.7h-0.7zM373.60 288.98h0.7v0.7h-0.7zM374.30 287.66h0.7v0.7h-0.7zM377.10 290.06h0.7v0.7h-0.7z"/>
<path fill="#000" fill-opacity="0.65" d="M329.50 294.53h0.7v0.7h-0.7zM333.00 298.42h0.7v0.7h-0.7zM335.10 294.73h0.7v0.7h-0.7zM337.20 296.65h0.7v0.7h-0.7zM337.90 293.09h0.7v0.7h-0.7zM337.90 295.19h0.7v0.7h-0.7zM338.60 295.82h0.7v0.7h-0.7zM338.60 298.62h0.7v0.7h-0.7zM338.60 299.32h0.7v0.7h-0.7zM339.30 298.56h0.7v0.7h-0.7zM340.00 295.70h0.7v0.7h-0.7zM340.00 297.10h0.7v0.7h-0.7zM341.40 294.02h0.7v0.7h-0.7zM342.10 298.08h0.7v0.7h-0.7zM342.80 291.64h0.7v0.7h-0.7zM342.80 293.74h0.7v0.7h-0.7zM343.50 297.10h0.7v0.7h-0.7zM345.60 293.88h0.7v0.7h-0.7zM346.30 293.04h0.7v0.7h-0.7zM346.30 297.94h0.7v0.7h-0.7zM346.30 298.64h0.7v0.7h-0.7zM347.00 292.90h0.7v0.7h-0.7zM347.00 293.60h0.7v0.7h-0.7zM347.00 295.70h0.7v0.7h-0.7zM347.70 299.06h0.7v0.7h-0.7zM348.40 294.02h0.7v0.7h-0.7zM349.10 294.58h0.7v0.7h-0.7zM349.80 295.14h0.7v0.7h-0.7zM349.80 296.54h0.7v0.7h-0.7zM349.80 297.24h0.7v0.7h-0.7zM350.50 291.50h0.7v0.7h-0.7zM350.50 297.10h0.7v0.7h-0.7zM350.50 298.50h0.7v0.7h-0.7zM351.20 289.96h0.7v0.7h-0.7zM351.20 295.56h0.7v0.7h-0.7zM351.90 292.62h0.7v0.7h-0.7zM351.90 299.62h0.7v0.7h-0.7zM352.60 292.48h0.7v0.7h-0.7zM352.60 293.18h0.7v0.7h-0.7zM352.60 295.98h0.7v0.7h-0.7zM353.30 290.94h0.7v0.7h-0.7zM354.00 289.40h0.7v0.7h-0.7zM354.00 291.50h0.7v0.7h-0.7zM354.00 299.90h0.7v0.7h-0.7zM354.70 289.96h0.7v0.7h-0.7zM354.70 292.06h0.7v0.7h-0.7zM354.70 296.26h0.7v0.7h-0.7zM355.40 291.22h0.7v0.7h-0.7zM355.40 291.92h0.7v0.7h-0.7zM356.10 290.38h0.7v0.7h-0.7zM356.10 291.78h0.7v0.7h-0.7zM356.80 289.54h0.7v0.7h-0.7zM356.80 293.74h0.7v0.7h-0.7zM356.80 298.64h0.7v0.7h-0.7zM357.50 297.80h0.7v0.7h-0.7zM358.20 288.56h0.7v0.7h-0.7zM358.90 297.52h0.7v0.7h-0.7zM358.90 298.92h0.7v0.7h-0.7zM359.60 293.88h0.7v0.7h-0.7zM360.30 294.47h0.7v0.7h-0.7zM360.30 295.17h0.7v0.7h-0.7zM361.00 290.20h0.7v0.7h-0.7zM361.70 288.03h0.7v0.7h-0.7zM361.70 294.33h0.7v0.7h-0.7zM362.40 288.66h0.7v0.7h-0.7zM362.40 292.16h0.7v0.7h-0.7zM362.40 292.86h0.7v0.7h-0.7zM362.40 299.16h0.7v0.7h-0.7zM363.10 289.29h0.7v0.7h-0.7zM363.10 289.99h0.7v0.7h-0.7zM363.10 294.89h0.7v0.7h-0.7zM363.80 287.82h0.7v0.7h-0.7zM365.20 287.68h0.7v0.7h-0.7zM365.20 292.58h0.7v0.7h-0.7zM365.20 299.58h0.7v0.7h-0.7zM366.60 287.54h0.7v0.7h-0.7zM367.30 292.37h0.7v0.7h-0.7zM368.00 288.10h0.7v0.7h-0.7zM368.00 290.90h0.7v0.7h-0.7zM368.00 295.80h0.7v0.7h-0.7zM368.70 297.83h0.7v0.7h-0.7zM369.40 293.56h0.7v0.7h-0.7zM370.10 290.71h0.7v0.7h-0.7zM370.10 294.91h0.7v0.7h-0.7zM370.10 295.61h0.7v0.7h-0.7zM371.50 292.26h0.7v0.7h-0.7zM371.50 295.76h0.7v0.7h-0.7zM372.20 290.93h0.7v0.7h-0.7zM372.90 288.91h0.7v0.7h-0.7zM372.90 291.71h0.7v0.7h-0.7zM372.90 293.81h0.7v0.7h-0.7zM373.60 292.48h0.7v0.7h-0.7zM373.60 293.18h0.7v0.7h-0.7zM375.00 288.43h0.7v0.7h-0.7zM375.70 288.51h0.7v0.7h-0.7zM375.70 289.21h0.7v0.7h-0.7zM375.70 290.61h0.7v0.7h-0.7zM375.70 293.41h0.7v0.7h-0.7zM376.40 289.28h0.7v0.7h-0.7zM377.10 290.76h0.7v0.7h-0.7z"/>
<path fill="#000" fill-opacity="0.85" d="M347.00 298.50h0.7v0.7h-0.7zM347.70 298.36h0.7v0.7h-0.7zM348.40 295.42h0.7v0.7h-0.7zM348.40 296.12h0.7v0.7h-0.7zM349.10 292.48h0.7v0.7h-0.7zM349.10 298.78h0.7v0.7h-0.7zM350.50 296.40h0.7v0.7h-0.7zM351.20 294.16h0.7v0.7h-0.7zM351.20 296.96h0.7v0.7h-0.7zM351.20 298.36h0.7v0.7h-0.7zM351.90 291.92h0.7v0.7h-0.7zM352.60 291.78h0.7v0.7h-0.7zM353.30 294.44h0.7v0.7h-0.7zM353.30 296.54h0.7v0.7h-0.7zM353.30 298.64h0.7v0.7h-0.7zM354.00 293.60h0.7v0.7h-0.7zM354.70 295.56h0.7v0.7h-0.7zM355.40 293.32h0.7v0.7h-0.7zM355.40 294.02h0.7v0.7h-0.7zM356.10 289.68h0.7v0.7h-0.7zM356.10 298.08h0.7v0.7h-0.7zM356.80 290.24h0.7v0.7h-0.7zM356.80 295.84h0.7v0.7h-0.7zM357.50 290.80h0.7v0.7h-0.7zM357.50 291.50h0.7v0.7h-0.7zM357.50 297.10h0.7v0.7h-0.7zM357.50 299.20h0.7v0.7h-0.7zM358.90 289.82h0.7v0.7h-0.7zM358.90 290.52h0.7v0.7h-0.7zM359.60 291.78h0.7v0.7h-0.7zM359.60 295.98h0.7v0.7h-0.7zM360.30 295.87h0.7v0.7h-0.7zM361.00 293.00h0.7v0.7h-0.7zM361.70 299.23h0.7v0.7h-0.7zM362.40 294.96h0.7v0.7h-0.7zM362.40 297.06h0.7v0.7h-0.7zM363.10 293.49h0.7v0.7h-0.7zM363.10 299.09h0.7v0.7h-0.7zM363.80 294.12h0.7v0.7h-0.7zM363.80 298.32h0.7v0.7h-0.7zM365.20 294.68h0.7v0.7h-0.7zM365.90 287.61h0.7v0.7h-0.7zM365.90 289.71h0.7v0.7h-0.7zM366.60 288.24h0.7v0.7h-0.7zM366.60 295.24h0.7v0.7h-0.7zM367.30 296.57h0.7v0.7h-0.7zM368.00 293.00h0.7v0.7h-0.7zM368.70 291.53h0.7v0.7h-0.7zM370.10 292.81h0.7v0.7h-0.7zM370.10 293.51h0.7v0.7h-0.7zM370.80 294.29h0.7v0.7h-0.7zM370.80 295.69h0.7v0.7h-0.7zM370.80 296.39h0.7v0.7h-0.7zM372.20 288.13h0.7v0.7h-0.7zM372.20 290.23h0.7v0.7h-0.7zM372.90 292.41h0.7v0.7h-0.7zM373.60 290.38h0.7v0.7h-0.7zM375.00 290.53h0.7v0.7h-0.7zM375.00 291.93h0.7v0.7h-0.7z"/>
<path fill="#000" fill-opacity="1.05" d="M349.10 295.98h0.7v0.7h-0.7zM350.50 294.30h0.7v0.7h-0.7zM350.50 295.00h0.7v0.7h-0.7zM350.50 295.70h0.7v0.7h-0.7zM351.20 292.76h0.7v0.7h-0.7zM351.20 296.26h0.7v0.7h-0.7zM351.20 299.06h0.7v0.7h-0.7zM351.90 291.22h0.7v0.7h-0.7zM351.90 294.02h0.7v0.7h-0.7zM351.90 294.72h0.7v0.7h-0.7zM351.90 296.12h0.7v0.7h-0.7zM351.90 296.82h0.7v0.7h-0.7zM351.90 297.52h0.7v0.7h-0.7zM351.90 298.22h0.7v0.7h-0.7zM351.90 298.92h0.7v0.7h-0.7zM352.60 298.08h0.7v0.7h-0.7zM353.30 295.14h0.7v0.7h-0.7zM353.30 297.94h0.7v0.7h-0.7zM354.00 290.80h0.7v0.7h-0.7zM354.00 292.20h0.7v0.7h-0.7zM354.00 292.90h0.7v0.7h-0.7zM354.00 294.30h0.7v0.7h-0.7zM354.00 295.00h0.7v0.7h-0.7zM354.00 295.70h0.7v0.7h-0.7zM354.00 297.10h0.7v0.7h-0.7zM354.00 298.50h0.7v0.7h-0.7zM354.00 299.20h0.7v0.7h-0.7zM354.70 291.36h0.7v0.7h-0.7zM354.70 292.76h0.7v0.7h-0.7zM354.70 299.06h0.7v0.7h-0.7zM355.40 290.52h0.7v0.7h-0.7zM355.40 294.72h0.7v0.7h-0.7zM355.40 295.42h0.7v0.7h-0.7zM355.40 296.12h0.7v0.7h-0.7zM355.40 296.82h0.7v0.7h-0.7zM355.40 297.52h0.7v0.7h-0.7zM355.40 298.22h0.7v0.7h-0.7zM355.40 298.92h0.7v0.7h-0.7zM356.10 292.48h0.7v0.7h-0.7zM356.10 293.18h0.7v0.7h-0.7zM356.10 293.88h0.7v0.7h-0.7zM356.10 294.58h0.7v0.7h-0.7zM356.10 296.68h0.7v0.7h-0.7zM356.10 297.38h0.7v0.7h-0.7zM356.10 298.78h0.7v0.7h-0.7zM356.80 291.64h0.7v0.7h-0.7zM356.80 292.34h0.7v0.7h-0.7zM356.80 293.04h0.7v0.7h-0.7zM356.80 294.44h0.7v0.7h-0.7zM356.80 295.14h0.7v0.7h-0.7zM356.80 296.54h0.7v0.7h-0.7zM356.80 297.24h0.7v0.7h-0.7zM356.80 297.94h0.7v0.7h-0.7zM356.80 299.34h0.7v0.7h-0.7zM357.50 290.10h0.7v0.7h-0.7zM357.50 292.20h0.7v0.7h-0.7zM357.50 292.90h0.7v0.7h-0.7zM357.50 293.60h0.7v0.7h-0.7zM357.50 294.30h0.7v0.7h-0.7zM357.50 295.00h0.7v0.7h-0.7zM357.50 295.70h0.7v0.7h-0.7zM357.50 296.40h0.7v0.7h-0.7zM357.50 298.50h0.7v0.7h-0.7zM358.20 289.96h0.7v0.7h-0.7zM358.20 292.06h0.7v0.7h-0.7zM358.20 293.46h0.7v0.7h-0.7zM358.20 294.16h0.7v0.7h-0.7zM358.20 294.86h0.7v0.7h-0.7zM358.20 295.56h0.7v0.7h-0.7zM358.20 296.26h0.7v0.7h-0.7zM358.20 296.96h0.7v0.7h-0.7zM358.20 297.66h0.7v0.7h-0.7zM358.20 298.36h0.7v0.7h-0.7zM358.20 299.06h0.7v0.7h-0.7zM358.90 289.12h0.7v0.7h-0.7zM358.90 291.92h0.7v0.7h-0.7zM358.90 293.32h0.7v0.7h-0.7zM358.90 294.02h0.7v0.7h-0.7zM358.90 296.82h0.7v0.7h-0.7zM358.90 298.22h0.7v0.7h-0.7zM359.60 288.98h0.7v0.7h-0.7zM359.60 292.48h0.7v0.7h-0.7zM359.60 293.18h0.7v0.7h-0.7zM359.60 294.58h0.7v0.7h-0.7zM359.60 295.28h0.7v0.7h-0.7zM359.60 296.68h0.7v0.7h-0.7zM359.60 297.38h0.7v0.7h-0.7zM359.60 298.08h0.7v0.7h-0.7zM359.60 298.78h0.7v0.7h-0.7zM360.30 290.27h0.7v0.7h-0.7zM360.30 290.97h0.7v0.7h-0.7zM360.30 291.67h0.7v0.7h-0.7zM360.30 292.37h0.7v0.7h-0.7zM360.30 293.07h0.7v0.7h-0.7zM360.30 293.77h0.7v0.7h-0.7zM360.30 296.57h0.7v0.7h-0.7zM360.30 297.27h0.7v0.7h-0.7zM360.30 297.97h0.7v0.7h-0.7zM361.00 288.80h0.7v0.7h-0.7zM361.00 290.90h0.7v0.7h-0.7zM361.00 293.70h0.7v0.7h-0.7zM361.00 294.40h0.7v0.7h-0.7zM361.00 295.10h0.7v0.7h-0.7zM361.00 295.80h0.7v0.7h-0.7zM361.00 296.50h0.7v0.7h-0.7zM361.00 297.20h0.7v0.7h-0.7zM361.00 297.90h0.7v0.7h-0.7zM361.70 288.73h0.7v0.7h-0.7zM361.70 289.43h0.7v0.7h-0.7zM361.70 290.13h0.7v0.7h-0.7zM361.70 291.53h0.7v0.7h-0.7zM361.70 292.23h0.7v0.7h-0.7zM361.70 292.93h0.7v0.7h-0.7zM361.70 293.63h0.7v0.7h-0.7zM361.70 295.73h0.7v0.7h-0.7zM361.70 296.43h0.7v0.7h-0.7zM361.70 297.13h0.7v0.7h-0.7zM361.70 297.83h0.7v0.7h-0.7zM361.70 298.53h0.7v0.7h-0.7zM362.40 290.76h0.7v0.7h-0.7zM362.40 294.26h0.7v0.7h-0.7zM362.40 295.66h0.7v0.7h-0.7zM362.40 296.36h0.7v0.7h-0.7zM362.40 297.76h0.7v0.7h-0.7zM362.40 298.46h0.7v0.7h-0.7zM363.10 292.09h0.7v0.7h-0.7zM363.10 292.79h0.7v0.7h-0.7zM363.10 295.59h0.7v0.7h-0.7zM363.10 296.29h0.7v0.7h-0.7zM363.10 296.99h0.7v0.7h-0.7zM363.10 297.69h0.7v0.7h-0.7zM363.10 298.39h0.7v0.7h-0.7zM363.80 288.52h0.7v0.7h-0.7zM363.80 289.22h0.7v0.7h-0.7zM363.80 289.92h0.7v0.7h-0.7zM363.80 290.62h0.7v0.7h-0.7zM363.80 292.72h0.7v0.7h-0.7zM363.80 294.82h0.7v0.7h-0.7zM363.80 295.52h0.7v0.7h-0.7zM363.80 296.22h0.7v0.7h-0.7zM363.80 296.92h0.7v0.7h-0.7zM363.80 297.62h0.7v0.7h-0.7zM363.80 299.02h0.7v0.7h-0.7zM364.50 288.45h0.7v0.7h-0.7zM364.50 289.15h0.7v0.7h-0.7zM364.50 289.85h0.7v0.7h-0.7zM364.50 290.55h0.7v0.7h-0.7zM364.50 291.25h0.7v0.7h-0.7zM364.50 291.95h0.7v0.7h-0.7zM364.50 292.65h0.7v0.7h-0.7zM364.50 293.35h0.7v0.7h-0.7zM364.50 294.05h0.7v0.7h-0.7zM364.50 294.75h0.7v0.7h-0.7zM364.50 295.45h0.7v0.7h-0.7zM364.50 297.55h0.7v0.7h-0.7zM364.50 298.25h0.7v0.7h-0.7zM364.50 298.95h0.7v0.7h-0.7zM365.20 288.38h0.7v0.7h-0.7zM365.20 289.78h0.7v0.7h-0.7zM365.20 290.48h0.7v0.7h-0.7zM365.20 291.18h0.7v0.7h-0.7zM365.20 291.88h0.7v0.7h-0.7zM365.20 293.28h0.7v0.7h-0.7zM365.20 293.98h0.7v0.7h-0.7zM365.20 295.38h0.7v0.7h-0.7zM365.20 296.08h0.7v0.7h-0.7zM365.20 297.48h0.7v0.7h-0.7zM365.20 298.18h0.7v0.7h-0.7zM365.20 298.88h0.7v0.7h-0.7zM365.90 290.41h0.7v0.7h-0.7zM365.90 291.11h0.7v0.7h-0.7zM365.90 291.81h0.7v0.7h-0.7zM365.90 292.51h0.7v0.7h-0.7zM365.90 293.91h0.7v0.7h-0.7zM365.90 296.01h0.7v0.7h-0.7zM365.90 296.71h0.7v0.7h-0.7zM365.90 297.41h0.7v0.7h-0.7zM366.60 288.94h0.7v0.7h-0.7zM366.60 291.04h0.7v0.7h-0.7zM366.60 292.44h0.7v0.7h-0.7zM366.60 293.14h0.7v0.7h-0.7zM366.60 294.54h0.7v0.7h-0.7zM366.60 295.94h0.7v0.7h-0.7zM366.60 296.64h0.7v0.7h-0.7zM366.60 297.34h0.7v0.7h-0.7zM366.60 298.04h0.7v0.7h-0.7zM367.30 288.17h0.7v0.7h-0.7zM367.30 289.57h0.7v0.7h-0.7zM367.30 290.97h0.7v0.7h-0.7zM367.30 291.67h0.7v0.7h-0.7zM367.30 293.07h0.7v0.7h-0.7zM367.30 293.77h0.7v0.7h-0.7zM367.30 294.47h0.7v0.7h-0.7zM367.30 295.17h0.7v0.7h-0.7zM367.30 295.87h0.7v0.7h-0.7zM367.30 297.27h0.7v0.7h-0.7zM367.30 297.97h0.7v0.7h-0.7zM368.00 288.80h0.7v0.7h-0.7zM368.00 289.50h0.7v0.7h-0.7zM368.00 290.20h0.7v0.7h-0.7zM368.00 291.60h0.7v0.7h-0.7zM368.00 292.30h0.7v0.7h-0.7zM368.00 293.70h0.7v0.7h-0.7zM368.00 296.50h0.7v0.7h-0.7zM368.00 297.20h0.7v0.7h-0.7zM368.70 289.43h0.7v0.7h-0.7zM368.70 290.13h0.7v0.7h-0.7zM368.70 290.83h0.7v0.7h-0.7zM368.70 292.23h0.7v0.7h-0.7zM368.70 293.63h0.7v0.7h-0.7zM368.70 294.33h0.7v0.7h-0.7zM368.70 296.43h0.7v0.7h-0.7zM368.70 297.13h0.7v0.7h-0.7zM369.40 287.96h0.7v0.7h-0.7zM369.40 288.66h0.7v0.7h-0.7zM369.40 290.06h0.7v0.7h-0.7zM369.40 290.76h0.7v0.7h-0.7zM369.40 291.46h0.7v0.7h-0.7zM369.40 292.16h0.7v0.7h-0.7zM369.40 292.86h0.7v0.7h-0.7zM369.40 294.26h0.7v0.7h-0.7zM369.40 296.36h0.7v0.7h-0.7zM369.40 297.06h0.7v0.7h-0.7zM370.10 291.41h0.7v0.7h-0.7zM370.10 294.21h0.7v0.7h-0.7zM370.10 296.31h0.7v0.7h-0.7zM370.10 297.01h0.7v0.7h-0.7zM370.80 288.69h0.7v0.7h-0.7zM370.80 289.39h0.7v0.7h-0.7zM370.80 290.09h0.7v0.7h-0.7zM370.80 292.19h0.7v0.7h-0.7zM370.80 293.59h0.7v0.7h-0.7zM370.80 294.99h0.7v0.7h-0.7zM371.50 288.06h0.7v0.7h-0.7zM371.50 290.86h0.7v0.7h-0.7zM371.50 292.96h0.7v0.7h-0.7zM371.50 295.06h0.7v0.7h-0.7zM372.20 291.63h0.7v0.7h-0.7zM372.20 292.33h0.7v0.7h-0.7zM372.20 294.43h0.7v0.7h-0.7zM372.20 295.83h0.7v0.7h-0.7zM372.90 290.31h0.7v0.7h-0.7zM372.90 293.11h0.7v0.7h-0.7zM372.90 294.51h0.7v0.7h-0.7zM372.90 295.21h0.7v0.7h-0.7zM373.60 293.88h0.7v0.7h-0.7zM374.30 291.16h0.7v0.7h-0.7zM374.30 292.56h0.7v0.7h-0.7zM374.30 293.26h0.7v0.7h-0.7z"/>
<path fill="#000" fill-opacity="0.95" d="M349.10 297.38h0.7v0.7h-0.7zM349.10 298.08h0.7v0.7h-0.7zM351.20 291.36h0.7v0.7h-0.7zM351.20 294.86h0.7v0.7h-0.7zM351.90 290.52h0.7v0.7h-0.7zM351.90 295.42h0.7v0.7h-0.7zM352.60 290.38h0.7v0.7h-0.7zM352.60 295.28h0.7v0.7h-0.7zM352.60 296.68h0.7v0.7h-0.7zM353.30 290.24h0.7v0.7h-0.7zM354.70 290.66h0.7v0.7h-0.7zM354.70 293.46h0.7v0.7h-0.7zM354.70 294.16h0.7v0.7h-0.7zM356.10 295.28h0.7v0.7h-0.7zM356.80 290.94h0.7v0.7h-0.7zM358.20 291.36h0.7v0.7h-0.7zM358.20 292.76h0.7v0.7h-0.7zM358.90 291.22h0.7v0.7h-0.7zM358.90 292.62h0.7v0.7h-0.7zM359.60 299.48h0.7v0.7h-0.7zM360.30 298.67h0.7v0.7h-0.7zM361.00 298.60h0.7v0.7h-0.7zM361.70 295.03h0.7v0.7h-0.7zM362.40 289.36h0.7v0.7h-0.7zM362.40 290.06h0.7v0.7h-0.7zM362.40 293.56h0.7v0.7h-0.7zM363.10 290.69h0.7v0.7h-0.7zM363.80 291.32h0.7v0.7h-0.7zM363.80 293.42h0.7v0.7h-0.7zM364.50 296.15h0.7v0.7h-0.7zM364.50 296.85h0.7v0.7h-0.7zM365.20 296.78h0.7v0.7h-0.7zM365.90 289.01h0.7v0.7h-0.7zM365.90 294.61h0.7v0.7h-0.7zM365.90 298.81h0.7v0.7h-0.7zM366.60 291.74h0.7v0.7h-0.7zM366.60 293.84h0.7v0.7h-0.7zM368.00 294.40h0.7v0.7h-0.7zM368.00 295.10h0.7v0.7h-0.7zM368.70 288.73h0.7v0.7h-0.7zM369.40 289.36h0.7v0.7h-0.7zM369.40 294.96h0.7v0.7h-0.7zM370.10 289.31h0.7v0.7h-0.7zM370.10 292.11h0.7v0.7h-0.7zM370.80 290.79h0.7v0.7h-0.7zM370.80 291.49h0.7v0.7h-0.7zM370.80 292.89h0.7v0.7h-0.7zM371.50 288.76h0.7v0.7h-0.7zM371.50 294.36h0.7v0.7h-0.7zM372.20 288.83h0.7v0.7h-0.7zM372.20 293.03h0.7v0.7h-0.7zM372.20 293.73h0.7v0.7h-0.7zM372.90 291.01h0.7v0.7h-0.7zM373.60 291.78h0.7v0.7h-0.7zM373.60 294.58h0.7v0.7h-0.7zM374.30 290.46h0.7v0.7h-0.7zM375.00 291.23h0.7v0.7h-0.7zM375.00 292.63h0.7v0.7h-0.7zM375.70 292.01h0.7v0.7h-0.7z"/>
<path fill="#000" fill-opacity="0.45" d="M382.50 288.50h0.7v0.7h-0.7zM384.00 290.50h0.7v0.7h-0.7zM386.50 289.00h0.7v0.7h-0.7zM380.00 291.20h0.7v0.7h-0.7zM378.50 289.60h0.7v0.7h-0.7z"/>
<rect x="353.3" y="283.1" width="42.39999999999998" height="17.0" fill="none" stroke="#ff4040" stroke-width="0.9"/>
<line x1="149.50" y1="245.50" x2="260.50" y2="245.50" stroke="#9a9a9a" stroke-width="0.8"/>
<line x1="260.50" y1="245.50" x2="260.50" y2="303.10" stroke="#9a9a9a" stroke-width="1.2"/>
<line x1="148.30" y1="245.50" x2="149.50" y2="245.50" stroke="#444" stroke-width="0.5"/>
<line x1="148.30" y1="246.94" x2="149.50" y2="246.94" stroke="#444" stroke-width="0.5"/>
<line x1="148.30" y1="248.38" x2="149.50" y2="248.38" stroke="#444" stroke-width="0.5"/>
<line x1="148.30" y1="249.82" x2="149.50" y2="249.82" stroke="#444" stroke-width="0.5"/>
<line x1="148.30" y1="251.26" x2="149.50" y2="251.26" stroke="#444" stroke-width="0.5"/>
<line x1="148.30" y1="252.70" x2="149.50" y2="252.70" stroke="#444" stroke-width="0.5"/>
<line x1="148.30" y1="254.14" x2="149.50" y2="254.14" stroke="#444" stroke-width="0.5"/>
<line x1="148.30" y1="255.58" x2="149.50" y2="255.58" stroke="#444" stroke-width="0.5"/>
<line x1="148.30" y1="257.02" x2="149.50" y2="257.02" stroke="#444" stroke-width="0.5"/>
<line x1="148.30" y1="258.46" x2="149.50" y2="258.46" stroke="#444" stroke-width="0.5"/>
<line x1="148.30" y1="259.90" x2="149.50" y2="259.90" stroke="#444" stroke-width="0.5"/>
<line x1="148.30" y1="261.34" x2="149.50" y2="261.34" stroke="#444" stroke-width="0.5"/>
<line x1="148.30" y1="262.78" x2="149.50" y2="262.78" stroke="#444" stroke-width="0.5"/>
<line x1="148.30" y1="264.22" x2="149.50" y2="264.22" stroke="#444" stroke-width="0.5"/>
<line x1="148.30" y1="265.66" x2="149.50" y2="265.66" stroke="#444" stroke-width="0.5"/>
<line x1="148.30" y1="267.10" x2="149.50" y2="267.10" stroke="#444" stroke-width="0.5"/>
<line x1="148.30" y1="268.54" x2="149.50" y2="268.54" stroke="#444" stroke-width="0.5"/>
<line x1="148.30" y1="269.98" x2="149.50" y2="269.98" stroke="#444" stroke-width="0.5"/>
<line x1="148.30" y1="271.42" x2="149.50" y2="271.42" stroke="#444" stroke-width="0.5"/>
<line x1="148.30" y1="272.86" x2="149.50" y2="272.86" stroke="#444" stroke-width="0.5"/>
<line x1="148.30" y1="274.30" x2="149.50" y2="274.30" stroke="#444" stroke-width="0.5"/>
<line x1="148.30" y1="275.74" x2="149.50" y2="275.74" stroke="#444" stroke-width="0.5"/>
<line x1="148.30" y1="277.18" x2="149.50" y2="277.18" stroke="#444" stroke-width="0.5"/>
<line x1="148.30" y1="278.62" x2="149.50" y2="278.62" stroke="#444" stroke-width="0.5"/>
<line x1="148.30" y1="280.06" x2="149.50" y2="280.06" stroke="#444" stroke-width="0.5"/>
<line x1="148.30" y1="281.50" x2="149.50" y2="281.50" stroke="#444" stroke-width="0.5"/>
<line x1="148.30" y1="282.94" x2="149.50" y2="282.94" stroke="#444" stroke-width="0.5"/>
<line x1="148.30" y1="284.38" x2="149.50" y2="284.38" stroke="#444" stroke-width="0.5"/>
<line x1="148.30" y1="285.82" x2="149.50" y2="285.82" stroke="#444" stroke-width="0.5"/>
<line x1="148.30" y1="287.26" x2="149.50" y2="287.26" stroke="#444" stroke-width="0.5"/>
<line x1="148.30" y1="288.70" x2="149.50" y2="288.70" stroke="#444" stroke-width="0.5"/>
<line x1="148.30" y1="290.14" x2="149.50" y2="290.14" stroke="#444" stroke-width="0.5"/>
<line x1="148.30" y1="291.58" x2="149.50" y2="291.58" stroke="#444" stroke-width="0.5"/>
<line x1="148.30" y1="293.02" x2="149.50" y2="293.02" stroke="#444" stroke-width="0.5"/>
<line x1="148.30" y1="294.46" x2="149.50" y2="294.46" stroke="#444" stroke-width="0.5"/>
<line x1="148.30" y1="295.90" x2="149.50" y2="295.90" stroke="#444" stroke-width="0.5"/>
<line x1="148.30" y1="297.34" x2="149.50" y2="297.34" stroke="#444" stroke-width="0.5"/>
<line x1="148.30" y1="298.78" x2="149.50" y2="298.78" stroke="#444" stroke-width="0.5"/>
<line x1="148.30" y1="300.22" x2="149.50" y2="300.22" stroke="#444" stroke-width="0.5"/>
<line x1="148.30" y1="301.66" x2="149.50" y2="301.66" stroke="#444" stroke-width="0.5"/>
<line x1="148.30" y1="303.10" x2="149.50" y2="303.10" stroke="#444" stroke-width="0.5"/>
<line x1="149.50" y1="303.10" x2="149.50" y2="304.90" stroke="#444" stroke-width="0.5"/>
<line x1="157.85" y1="303.10" x2="157.85" y2="304.20" stroke="#444" stroke-width="0.5"/>
<line x1="162.74" y1="303.10" x2="162.74" y2="304.20" stroke="#444" stroke-width="0.5"/>
<line x1="166.21" y1="303.10" x2="166.21" y2="304.20" stroke="#444" stroke-width="0.5"/>
<line x1="168.90" y1="303.10" x2="168.90" y2="304.20" stroke="#444" stroke-width="0.5"/>
<line x1="171.09" y1="303.10" x2="171.09" y2="304.20" stroke="#444" stroke-width="0.5"/>
<line x1="172.95" y1="303.10" x2="172.95" y2="304.20" stroke="#444" stroke-width="0.5"/>
<line x1="174.56" y1="303.10" x2="174.56" y2="304.20" stroke="#444" stroke-width="0.5"/>
<line x1="175.98" y1="303.10" x2="175.98" y2="304.20" stroke="#444" stroke-width="0.5"/>
<line x1="177.25" y1="303.10" x2="177.25" y2="304.90" stroke="#444" stroke-width="0.5"/>
<line x1="185.60" y1="303.10" x2="185.60" y2="304.20" stroke="#444" stroke-width="0.5"/>
<line x1="190.49" y1="303.10" x2="190.49" y2="304.20" stroke="#444" stroke-width="0.5"/>
<line x1="193.96" y1="303.10" x2="193.96" y2="304.20" stroke="#444" stroke-width="0.5"/>
<line x1="196.65" y1="303.10" x2="196.65" y2="304.20" stroke="#444" stroke-width="0.5"/>
<line x1="198.84" y1="303.10" x2="198.84" y2="304.20" stroke="#444" stroke-width="0.5"/>
<line x1="200.70" y1="303.10" x2="200.70" y2="304.20" stroke="#444" stroke-width="0.5"/>
<line x1="202.31" y1="303.10" x2="202.31" y2="304.20" stroke="#444" stroke-width="0.5"/>
<line x1="203.73" y1="303.10" x2="203.73" y2="304.20" stroke="#444" stroke-width="0.5"/>
<line x1="205.00" y1="303.10" x2="205.00" y2="304.90" stroke="#444" stroke-width="0.5"/>
<line x1="213.35" y1="303.10" x2="213.35" y2="304.20" stroke="#444" stroke-width="0.5"/>
<line x1="218.24" y1="303.10" x2="218.24" y2="304.20" stroke="#444" stroke-width="0.5"/>
<line x1="221.71" y1="303.10" x2="221.71" y2="304.20" stroke="#444" stroke-width="0.5"/>
<line x1="224.40" y1="303.10" x2="224.40" y2="304.20" stroke="#444" stroke-width="0.5"/>
<line x1="226.59" y1="303.10" x2="226.59" y2="304.20" stroke="#444" stroke-width="0.5"/>
<line x1="228.45" y1="303.10" x2="228.45" y2="304.20" stroke="#444" stroke-width="0.5"/>
<line x1="230.06" y1="303.10" x2="230.06" y2="304.20" stroke="#444" stroke-width="0.5"/>
<line x1="231.48" y1="303.10" x2="231.48" y2="304.20" stroke="#444" stroke-width="0.5"/>
<line x1="232.75" y1="303.10" x2="232.75" y2="304.90" stroke="#444" stroke-width="0.5"/>
<line x1="241.10" y1="303.10" x2="241.10" y2="304.20" stroke="#444" stroke-width="0.5"/>
<line x1="245.99" y1="303.10" x2="245.99" y2="304.20" stroke="#444" stroke-width="0.5"/>
<line x1="249.46" y1="303.10" x2="249.46" y2="304.20" stroke="#444" stroke-width="0.5"/>
<line x1="252.15" y1="303.10" x2="252.15" y2="304.20" stroke="#444" stroke-width="0.5"/>
<line x1="254.34" y1="303.10" x2="254.34" y2="304.20" stroke="#444" stroke-width="0.5"/>
<line x1="256.20" y1="303.10" x2="256.20" y2="304.20" stroke="#444" stroke-width="0.5"/>
<line x1="257.81" y1="303.10" x2="257.81" y2="304.20" stroke="#444" stroke-width="0.5"/>
<line x1="259.23" y1="303.10" x2="259.23" y2="304.20" stroke="#444" stroke-width="0.5"/>
<line x1="149.50" y1="245.50" x2="149.50" y2="303.10" stroke="#222" stroke-width="1.3"/>
<line x1="149.50" y1="303.10" x2="260.50" y2="303.10" stroke="#222" stroke-width="1.3"/>
<text x="146.00" y="248.25" font-size="5.6" text-anchor="end" fill="#222" font-weight="normal" >373</text>
<text x="146.00" y="262.65" font-size="5.6" text-anchor="end" fill="#222" font-weight="normal" >280</text>
<text x="146.00" y="277.05" font-size="5.6" text-anchor="end" fill="#222" font-weight="normal" >187</text>
<text x="146.00" y="291.45" font-size="5.6" text-anchor="end" fill="#222" font-weight="normal" >93</text>
<text x="146.00" y="305.85" font-size="5.6" text-anchor="end" fill="#222" font-weight="normal" >0</text>
<text x="150.10" y="310.50" font-size="5.9" fill="#222" text-anchor="middle">10<tspan font-size="3.66" dy="-2.2">0</tspan></text>
<text x="177.85" y="310.50" font-size="5.9" fill="#222" text-anchor="middle">10<tspan font-size="3.66" dy="-2.2">1</tspan></text>
<text x="205.60" y="310.50" font-size="5.9" fill="#222" text-anchor="middle">10<tspan font-size="3.66" dy="-2.2">2</tspan></text>
<text x="233.35" y="310.50" font-size="5.9" fill="#222" text-anchor="middle">10<tspan font-size="3.66" dy="-2.2">3</tspan></text>
<text x="261.10" y="310.50" font-size="5.9" fill="#222" text-anchor="middle">10<tspan font-size="3.66" dy="-2.2">4</tspan></text>
<text x="204.30" y="317.60" font-size="6.7" text-anchor="middle" fill="#000" font-weight="normal" >TIGIT</text>
<text transform="translate(135.80,283.39) rotate(-90)" font-size="6.5" fill="#1a1a1a" textLength="18.28" lengthAdjust="spacingAndGlyphs">Count</text>
<polyline points="149.70,286.20 150.00,286.90 150.30,283.90 150.60,285.50 150.90,283.49 151.20,282.91 151.50,284.90 151.80,282.25 152.10,281.43 152.40,281.81 152.70,281.75 153.00,279.71 153.30,279.93 153.60,277.33 153.90,277.21 154.20,276.21 154.50,274.07 154.80,272.89 155.10,271.79 155.40,272.86 155.70,272.05 156.00,270.92 156.30,270.60 156.60,267.56 156.90,268.58 157.20,268.17 157.50,268.09 157.80,264.64 158.10,264.41 158.40,260.79 158.70,262.31 159.00,258.49 159.30,258.82 159.60,262.18 159.90,255.49 160.20,259.78 160.50,258.00 160.80,255.89 161.10,256.34 161.40,255.75 161.70,256.00 162.00,252.93 162.30,251.53 162.60,250.79 162.90,249.34 163.20,250.41 163.50,248.83 163.80,252.22 164.10,247.10 164.40,247.74 164.70,247.85 165.00,247.10 165.30,253.03 165.60,247.10 165.90,249.04 166.20,248.75 166.50,253.11 166.80,247.10 167.10,252.32 167.40,249.04 167.70,250.93 168.00,251.06 168.30,254.60 168.60,252.41 168.90,255.45 169.20,257.32 169.50,261.04 169.80,255.16 170.10,264.51 170.40,266.05 170.70,266.31 171.00,270.11 171.30,271.53 171.60,277.09 171.90,277.46 172.20,278.95 172.50,280.99 172.80,283.08 173.10,285.17 173.40,286.49 173.70,291.46 174.00,289.78 174.30,289.83 174.60,294.15 174.90,295.51 175.20,297.23 175.50,298.24 175.80,299.66 176.10,301.22 176.40,301.72 176.70,301.53 177.00,301.85 177.30,302.72 177.60,302.63 177.90,302.68 178.20,303.10" fill="none" stroke="#111" stroke-width="0.95" stroke-linejoin="round"/>
<polyline points="149.70,292.55 150.00,292.29 150.30,293.68 150.60,290.67 150.90,292.40 151.20,290.12 151.50,293.07 151.80,291.94 152.10,292.82 152.40,290.71 152.70,291.35 153.00,290.39 153.30,289.66 153.60,290.31 153.90,288.57 154.20,289.25 154.50,290.11 154.80,289.16 155.10,288.38 155.40,290.98 155.70,288.36 156.00,287.03 156.30,287.29 156.60,285.88 156.90,285.44 157.20,284.87 157.50,287.22 157.80,284.13 158.10,283.73 158.40,283.78 158.70,284.97 159.00,281.40 159.30,280.25 159.60,283.91 159.90,277.86 160.20,278.78 160.50,279.65 160.80,281.41 161.10,276.11 161.40,273.23 161.70,277.16 162.00,274.70 162.30,274.23 162.60,274.88 162.90,273.85 163.20,273.29 163.50,271.46 163.80,273.59 164.10,273.30 164.40,270.21 164.70,268.73 165.00,270.06 165.30,268.97 165.60,265.68 165.90,266.01 166.20,267.99 166.50,265.23 166.80,263.90 167.10,263.97 167.40,262.61 167.70,261.76 168.00,257.21 168.30,263.27 168.60,259.42 168.90,256.42 169.20,259.14 169.50,256.92 169.80,255.64 170.10,257.41 170.40,259.57 170.70,255.85 171.00,257.65 171.30,258.53 171.60,251.79 171.90,252.51 172.20,254.88 172.50,249.50 172.80,252.87 173.10,256.47 173.40,256.37 173.70,255.85 174.00,251.29 174.30,260.22 174.60,257.04 174.90,257.88 175.20,258.31 175.50,255.27 175.80,257.11 176.10,258.81 176.40,265.90 176.70,262.10 177.00,264.43 177.30,265.77 177.60,268.74 177.90,270.14 178.20,271.28 178.50,270.36 178.80,269.01 179.10,275.73 179.40,277.07 179.70,278.98 180.00,277.51 180.30,277.27 180.60,279.24 180.90,276.94 181.20,278.18 181.50,278.75 181.80,281.04 182.10,283.98 182.40,282.66 182.70,283.44 183.00,282.41 183.30,282.64 183.60,281.86 183.90,282.26 184.20,279.63 184.50,281.42 184.80,281.50 185.10,284.42 185.40,284.37 185.70,285.15 186.00,285.85 186.30,283.67 186.60,285.56 186.90,286.86 187.20,284.57 187.50,286.11 187.80,284.74 188.10,283.12 188.40,285.40 188.70,284.41 189.00,285.70 189.30,285.16 189.60,286.26 189.90,283.47 190.20,288.67 190.50,287.95 190.80,286.08 191.10,285.58 191.40,286.81 191.70,287.75 192.00,287.60 192.30,287.73 192.60,285.16 192.90,286.29 193.20,289.26 193.50,288.16 193.80,286.33 194.10,287.22 194.40,286.75 194.70,287.43 195.00,290.05 195.30,288.70 195.60,290.37 195.90,289.54 196.20,287.90 196.50,289.03 196.80,292.36 197.10,289.30 197.40,289.20 197.70,291.79 198.00,290.78 198.30,290.88 198.60,292.58 198.90,289.49 199.20,291.89 199.50,290.61 199.80,290.46 200.10,291.25 200.40,293.36 200.70,292.30 201.00,290.94 201.30,291.93 201.60,294.68 201.90,294.48 202.20,292.85 202.50,296.27 202.80,294.09 203.10,293.67 203.40,294.86 203.70,296.04 204.00,296.86 204.30,296.66 204.60,295.79 204.90,295.98 205.20,295.60 205.50,296.93 205.80,296.84 206.10,297.72 206.40,296.98 206.70,297.78 207.00,297.84 207.30,297.91 207.60,298.13 207.90,298.43 208.20,298.53 208.50,299.74 208.80,299.66 209.10,299.07 209.40,300.24 209.70,300.31 210.00,301.07 210.30,300.45 210.60,300.63 210.90,300.61 211.20,301.15 211.50,301.48 211.80,301.54 212.10,301.54 212.40,301.92 212.70,301.84 213.00,301.98 213.30,301.70 213.60,302.14 213.90,301.89 214.20,302.03 214.50,302.39 214.80,302.95 215.10,302.75 215.40,302.62 215.70,302.68 216.00,302.96 216.30,303.08 216.60,303.10 216.90,303.06 217.00,303.10" fill="none" stroke="#ff1a1a" stroke-width="1.05" stroke-linejoin="round"/>
<text x="220.09" y="254.60" font-size="6.9" fill="#111" font-weight="normal" textLength="36.13" lengthAdjust="spacingAndGlyphs" stroke="#111" stroke-width="0.15">FMO control</text>
<text x="209.19" y="263.10" font-size="6.9" fill="#ff1010" font-weight="normal" textLength="47.03" lengthAdjust="spacingAndGlyphs" stroke="#ff1010" stroke-width="0.15">TIGIT expression</text>
<line x1="429.70" y1="245.40" x2="540.60" y2="245.40" stroke="#9a9a9a" stroke-width="0.8"/>
<line x1="540.60" y1="245.40" x2="540.60" y2="303.10" stroke="#9a9a9a" stroke-width="1.2"/>
<line x1="428.50" y1="245.40" x2="429.70" y2="245.40" stroke="#444" stroke-width="0.5"/>
<line x1="428.50" y1="246.84" x2="429.70" y2="246.84" stroke="#444" stroke-width="0.5"/>
<line x1="428.50" y1="248.28" x2="429.70" y2="248.28" stroke="#444" stroke-width="0.5"/>
<line x1="428.50" y1="249.73" x2="429.70" y2="249.73" stroke="#444" stroke-width="0.5"/>
<line x1="428.50" y1="251.17" x2="429.70" y2="251.17" stroke="#444" stroke-width="0.5"/>
<line x1="428.50" y1="252.61" x2="429.70" y2="252.61" stroke="#444" stroke-width="0.5"/>
<line x1="428.50" y1="254.06" x2="429.70" y2="254.06" stroke="#444" stroke-width="0.5"/>
<line x1="428.50" y1="255.50" x2="429.70" y2="255.50" stroke="#444" stroke-width="0.5"/>
<line x1="428.50" y1="256.94" x2="429.70" y2="256.94" stroke="#444" stroke-width="0.5"/>
<line x1="428.50" y1="258.38" x2="429.70" y2="258.38" stroke="#444" stroke-width="0.5"/>
<line x1="428.50" y1="259.82" x2="429.70" y2="259.82" stroke="#444" stroke-width="0.5"/>
<line x1="428.50" y1="261.27" x2="429.70" y2="261.27" stroke="#444" stroke-width="0.5"/>
<line x1="428.50" y1="262.71" x2="429.70" y2="262.71" stroke="#444" stroke-width="0.5"/>
<line x1="428.50" y1="264.15" x2="429.70" y2="264.15" stroke="#444" stroke-width="0.5"/>
<line x1="428.50" y1="265.60" x2="429.70" y2="265.60" stroke="#444" stroke-width="0.5"/>
<line x1="428.50" y1="267.04" x2="429.70" y2="267.04" stroke="#444" stroke-width="0.5"/>
<line x1="428.50" y1="268.48" x2="429.70" y2="268.48" stroke="#444" stroke-width="0.5"/>
<line x1="428.50" y1="269.92" x2="429.70" y2="269.92" stroke="#444" stroke-width="0.5"/>
<line x1="428.50" y1="271.37" x2="429.70" y2="271.37" stroke="#444" stroke-width="0.5"/>
<line x1="428.50" y1="272.81" x2="429.70" y2="272.81" stroke="#444" stroke-width="0.5"/>
<line x1="428.50" y1="274.25" x2="429.70" y2="274.25" stroke="#444" stroke-width="0.5"/>
<line x1="428.50" y1="275.69" x2="429.70" y2="275.69" stroke="#444" stroke-width="0.5"/>
<line x1="428.50" y1="277.13" x2="429.70" y2="277.13" stroke="#444" stroke-width="0.5"/>
<line x1="428.50" y1="278.58" x2="429.70" y2="278.58" stroke="#444" stroke-width="0.5"/>
<line x1="428.50" y1="280.02" x2="429.70" y2="280.02" stroke="#444" stroke-width="0.5"/>
<line x1="428.50" y1="281.46" x2="429.70" y2="281.46" stroke="#444" stroke-width="0.5"/>
<line x1="428.50" y1="282.91" x2="429.70" y2="282.91" stroke="#444" stroke-width="0.5"/>
<line x1="428.50" y1="284.35" x2="429.70" y2="284.35" stroke="#444" stroke-width="0.5"/>
<line x1="428.50" y1="285.79" x2="429.70" y2="285.79" stroke="#444" stroke-width="0.5"/>
<line x1="428.50" y1="287.23" x2="429.70" y2="287.23" stroke="#444" stroke-width="0.5"/>
<line x1="428.50" y1="288.68" x2="429.70" y2="288.68" stroke="#444" stroke-width="0.5"/>
<line x1="428.50" y1="290.12" x2="429.70" y2="290.12" stroke="#444" stroke-width="0.5"/>
<line x1="428.50" y1="291.56" x2="429.70" y2="291.56" stroke="#444" stroke-width="0.5"/>
<line x1="428.50" y1="293.00" x2="429.70" y2="293.00" stroke="#444" stroke-width="0.5"/>
<line x1="428.50" y1="294.45" x2="429.70" y2="294.45" stroke="#444" stroke-width="0.5"/>
<line x1="428.50" y1="295.89" x2="429.70" y2="295.89" stroke="#444" stroke-width="0.5"/>
<line x1="428.50" y1="297.33" x2="429.70" y2="297.33" stroke="#444" stroke-width="0.5"/>
<line x1="428.50" y1="298.77" x2="429.70" y2="298.77" stroke="#444" stroke-width="0.5"/>
<line x1="428.50" y1="300.22" x2="429.70" y2="300.22" stroke="#444" stroke-width="0.5"/>
<line x1="428.50" y1="301.66" x2="429.70" y2="301.66" stroke="#444" stroke-width="0.5"/>
<line x1="428.50" y1="303.10" x2="429.70" y2="303.10" stroke="#444" stroke-width="0.5"/>
<line x1="429.70" y1="303.10" x2="429.70" y2="304.90" stroke="#444" stroke-width="0.5"/>
<line x1="438.05" y1="303.10" x2="438.05" y2="304.20" stroke="#444" stroke-width="0.5"/>
<line x1="442.93" y1="303.10" x2="442.93" y2="304.20" stroke="#444" stroke-width="0.5"/>
<line x1="446.39" y1="303.10" x2="446.39" y2="304.20" stroke="#444" stroke-width="0.5"/>
<line x1="449.08" y1="303.10" x2="449.08" y2="304.20" stroke="#444" stroke-width="0.5"/>
<line x1="451.27" y1="303.10" x2="451.27" y2="304.20" stroke="#444" stroke-width="0.5"/>
<line x1="453.13" y1="303.10" x2="453.13" y2="304.20" stroke="#444" stroke-width="0.5"/>
<line x1="454.74" y1="303.10" x2="454.74" y2="304.20" stroke="#444" stroke-width="0.5"/>
<line x1="456.16" y1="303.10" x2="456.16" y2="304.20" stroke="#444" stroke-width="0.5"/>
<line x1="457.43" y1="303.10" x2="457.43" y2="304.90" stroke="#444" stroke-width="0.5"/>
<line x1="465.77" y1="303.10" x2="465.77" y2="304.20" stroke="#444" stroke-width="0.5"/>
<line x1="470.65" y1="303.10" x2="470.65" y2="304.20" stroke="#444" stroke-width="0.5"/>
<line x1="474.12" y1="303.10" x2="474.12" y2="304.20" stroke="#444" stroke-width="0.5"/>
<line x1="476.80" y1="303.10" x2="476.80" y2="304.20" stroke="#444" stroke-width="0.5"/>
<line x1="479.00" y1="303.10" x2="479.00" y2="304.20" stroke="#444" stroke-width="0.5"/>
<line x1="480.86" y1="303.10" x2="480.86" y2="304.20" stroke="#444" stroke-width="0.5"/>
<line x1="482.46" y1="303.10" x2="482.46" y2="304.20" stroke="#444" stroke-width="0.5"/>
<line x1="483.88" y1="303.10" x2="483.88" y2="304.20" stroke="#444" stroke-width="0.5"/>
<line x1="485.15" y1="303.10" x2="485.15" y2="304.90" stroke="#444" stroke-width="0.5"/>
<line x1="493.50" y1="303.10" x2="493.50" y2="304.20" stroke="#444" stroke-width="0.5"/>
<line x1="498.38" y1="303.10" x2="498.38" y2="304.20" stroke="#444" stroke-width="0.5"/>
<line x1="501.84" y1="303.10" x2="501.84" y2="304.20" stroke="#444" stroke-width="0.5"/>
<line x1="504.53" y1="303.10" x2="504.53" y2="304.20" stroke="#444" stroke-width="0.5"/>
<line x1="506.72" y1="303.10" x2="506.72" y2="304.20" stroke="#444" stroke-width="0.5"/>
<line x1="508.58" y1="303.10" x2="508.58" y2="304.20" stroke="#444" stroke-width="0.5"/>
<line x1="510.19" y1="303.10" x2="510.19" y2="304.20" stroke="#444" stroke-width="0.5"/>
<line x1="511.61" y1="303.10" x2="511.61" y2="304.20" stroke="#444" stroke-width="0.5"/>
<line x1="512.88" y1="303.10" x2="512.88" y2="304.90" stroke="#444" stroke-width="0.5"/>
<line x1="521.22" y1="303.10" x2="521.22" y2="304.20" stroke="#444" stroke-width="0.5"/>
<line x1="526.10" y1="303.10" x2="526.10" y2="304.20" stroke="#444" stroke-width="0.5"/>
<line x1="529.57" y1="303.10" x2="529.57" y2="304.20" stroke="#444" stroke-width="0.5"/>
<line x1="532.25" y1="303.10" x2="532.25" y2="304.20" stroke="#444" stroke-width="0.5"/>
<line x1="534.45" y1="303.10" x2="534.45" y2="304.20" stroke="#444" stroke-width="0.5"/>
<line x1="536.31" y1="303.10" x2="536.31" y2="304.20" stroke="#444" stroke-width="0.5"/>
<line x1="537.91" y1="303.10" x2="537.91" y2="304.20" stroke="#444" stroke-width="0.5"/>
<line x1="539.33" y1="303.10" x2="539.33" y2="304.20" stroke="#444" stroke-width="0.5"/>
<line x1="429.70" y1="245.40" x2="429.70" y2="303.10" stroke="#222" stroke-width="1.3"/>
<line x1="429.70" y1="303.10" x2="540.60" y2="303.10" stroke="#222" stroke-width="1.3"/>
<text x="426.20" y="249.35" font-size="5.6" text-anchor="end" fill="#222" font-weight="normal" >337</text>
<text x="426.20" y="263.77" font-size="5.6" text-anchor="end" fill="#222" font-weight="normal" >253</text>
<text x="426.20" y="278.20" font-size="5.6" text-anchor="end" fill="#222" font-weight="normal" >169</text>
<text x="426.20" y="292.62" font-size="5.6" text-anchor="end" fill="#222" font-weight="normal" >84</text>
<text x="426.20" y="307.05" font-size="5.6" text-anchor="end" fill="#222" font-weight="normal" >0</text>
<text x="430.30" y="310.80" font-size="5.9" fill="#222" text-anchor="middle">10<tspan font-size="3.66" dy="-2.2">0</tspan></text>
<text x="458.03" y="310.80" font-size="5.9" fill="#222" text-anchor="middle">10<tspan font-size="3.66" dy="-2.2">1</tspan></text>
<text x="485.75" y="310.80" font-size="5.9" fill="#222" text-anchor="middle">10<tspan font-size="3.66" dy="-2.2">2</tspan></text>
<text x="513.48" y="310.80" font-size="5.9" fill="#222" text-anchor="middle">10<tspan font-size="3.66" dy="-2.2">3</tspan></text>
<text x="541.20" y="310.80" font-size="5.9" fill="#222" text-anchor="middle">10<tspan font-size="3.66" dy="-2.2">4</tspan></text>
<text x="483.30" y="318.60" font-size="6.7" text-anchor="middle" fill="#000" font-weight="normal" >CD226</text>
<polyline points="429.70,276.93 430.00,276.77 430.30,271.91 430.60,272.94 430.90,269.30 431.20,267.51 431.50,269.18 431.80,264.63 432.10,262.52 432.40,262.53 432.70,262.17 433.00,259.11 433.30,259.14 433.60,255.30 433.90,255.32 434.20,254.12 434.50,251.39 434.80,250.46 435.10,249.88 435.40,252.12 435.70,251.89 436.00,251.26 436.30,251.65 436.60,248.63 436.90,250.67 437.20,250.92 437.50,251.56 437.80,248.14 438.10,248.65 438.40,247.00 438.70,248.23 439.00,247.00 439.30,247.00 439.60,251.16 439.90,247.00 440.20,250.46 440.50,249.49 440.80,248.19 441.10,249.63 441.40,249.70 441.70,250.65 442.00,248.55 442.30,248.44 442.60,249.01 442.90,248.88 443.20,251.26 443.50,250.45 443.80,254.52 444.10,249.63 444.40,251.83 444.70,253.17 445.00,252.20 445.30,260.44 445.60,253.85 445.90,258.67 446.20,259.32 446.50,264.11 446.80,259.07 447.10,265.37 447.40,263.61 447.70,265.75 448.00,266.14 448.30,269.39 448.60,267.87 448.90,270.68 449.20,272.52 449.50,275.85 449.80,271.01 450.10,277.71 450.40,278.08 450.70,277.26 451.00,279.38 451.30,279.50 451.60,283.21 451.90,282.52 452.20,283.12 452.50,284.20 452.80,285.34 453.10,286.46 453.40,286.84 453.70,290.89 454.00,288.11 454.30,287.44 454.60,291.37 454.90,292.05 455.20,293.20 455.50,293.43 455.80,294.18 456.10,295.25 456.40,296.40 456.70,296.11 457.00,296.88 457.30,299.00 457.60,298.83 457.90,298.56 458.20,300.50 458.50,299.92 458.80,299.47 459.10,299.44 459.40,300.34 459.70,300.08 460.00,300.23 460.30,300.38 460.60,300.93 460.90,301.73 461.20,301.43 461.50,301.36 461.80,302.05 462.10,301.93 462.40,302.20 462.70,302.34 463.00,302.02 463.30,302.08 463.60,302.16 463.90,301.95 464.20,302.44 464.50,302.65 464.80,302.43 465.10,302.39 465.40,302.44 465.70,302.39 466.00,302.45 466.30,302.49 466.60,302.36 466.90,302.41 467.20,302.13 467.50,302.50 467.80,302.41 468.10,302.10 468.40,301.79 468.70,302.29 469.00,302.52 469.30,302.04 469.60,302.03 469.90,301.86 470.20,302.07 470.50,301.47 470.80,301.93 471.10,301.38 471.40,301.67 471.70,301.44 472.00,301.55 472.30,301.38 472.60,301.83 472.90,302.15 473.20,302.55 473.50,302.65 473.80,302.54 474.10,302.79 474.40,302.93 474.70,302.82 475.00,302.85 475.30,302.92 475.60,303.08 475.90,303.10 476.00,303.10" fill="none" stroke="#111" stroke-width="1.1" stroke-linejoin="round"/>
<polyline points="446.40,303.10 446.70,302.97 447.00,303.06 447.30,302.69 447.60,302.88 447.90,302.52 448.20,302.97 448.50,302.78 448.80,302.94 449.10,302.55 449.40,302.68 449.70,302.48 450.00,302.33 450.30,302.48 450.60,302.08 450.90,302.25 451.20,302.47 451.50,302.25 451.80,302.07 452.10,302.76 452.40,302.10 452.70,301.86 453.00,302.03 453.30,301.77 453.60,301.76 453.90,301.72 454.20,302.45 454.50,301.68 454.80,301.65 455.10,301.74 455.40,302.16 455.70,301.22 456.00,300.96 456.30,302.13 456.60,300.41 456.90,300.77 457.20,301.13 457.50,301.76 457.80,300.22 458.10,299.44 458.40,300.77 458.70,300.12 459.00,300.09 459.30,300.41 459.60,300.20 459.90,300.15 460.20,299.68 460.50,300.49 460.80,300.52 461.10,299.64 461.40,299.28 461.70,299.75 462.00,299.37 462.30,298.22 462.60,298.31 462.90,299.01 463.20,298.04 463.50,297.64 463.80,297.75 464.10,297.34 464.40,297.11 464.70,295.47 465.00,297.91 465.30,296.53 465.60,295.46 465.90,296.65 466.20,295.88 466.50,295.40 466.80,296.00 467.10,296.77 467.40,295.12 467.70,295.76 468.00,296.03 468.30,293.01 468.60,293.20 468.90,294.07 469.20,291.39 469.50,292.31 469.80,293.40 470.10,292.77 470.40,291.93 470.70,289.04 471.00,292.96 471.30,290.72 471.60,290.56 471.90,289.87 472.20,287.07 472.50,286.95 472.80,286.77 473.10,289.71 473.40,285.82 473.70,285.77 474.00,285.03 474.30,285.32 474.60,284.52 474.90,283.51 475.20,280.77 475.50,277.51 475.80,281.21 476.10,280.53 476.40,280.88 476.70,277.96 477.00,276.19 477.30,276.69 477.60,272.66 477.90,272.40 478.20,271.40 478.50,272.39 478.80,274.30 479.10,271.06 479.40,270.65 479.70,268.05 480.00,267.06 480.30,264.70 480.60,264.22 480.90,259.54 481.20,260.97 481.50,260.01 481.80,263.18 482.10,262.08 482.40,262.23 482.70,263.27 483.00,260.53 483.30,263.84 483.60,266.26 483.90,263.42 484.20,266.18 484.50,264.70 484.80,262.84 485.10,266.61 485.40,265.66 485.70,267.98 486.00,267.70 486.30,269.72 486.60,266.31 486.90,274.02 487.20,273.50 487.50,271.40 487.80,271.22 488.10,273.40 488.40,275.20 488.70,275.54 489.00,276.25 489.30,273.44 489.60,275.46 489.90,279.83 490.20,278.97 490.50,277.22 490.80,278.91 491.10,278.89 491.40,280.24 491.70,283.91 492.00,282.81 492.30,285.18 492.60,284.38 492.90,282.64 493.20,284.13 493.50,288.18 493.80,284.81 494.10,284.88 494.40,288.03 494.70,287.07 495.00,287.36 495.30,289.46 495.60,286.16 495.90,289.04 496.20,287.81 496.50,287.84 496.80,288.90 497.10,291.41 497.40,290.44 497.70,289.10 498.00,290.27 498.30,293.31 498.60,293.20 498.90,291.55 499.20,295.27 499.50,293.05 499.80,292.70 500.10,294.06 500.40,295.38 500.70,296.33 501.00,296.21 501.30,295.42 501.60,295.72 501.90,295.45 502.20,296.89 502.50,296.92 502.80,297.90 503.10,297.29 503.40,298.16 503.70,298.32 504.00,298.52 504.30,298.93 504.60,299.41 504.90,299.73 505.20,300.94 505.50,301.09 505.80,300.90 506.10,301.95 506.40,302.08 506.70,302.54 507.00,302.19 507.30,302.32 507.60,302.34 507.90,302.65 508.20,302.84 508.50,302.91 508.80,302.99 509.00,303.10" fill="none" stroke="#ff1a1a" stroke-width="0.9" stroke-linejoin="round"/>
<text x="500.49" y="254.60" font-size="6.9" fill="#111" font-weight="normal" textLength="35.73" lengthAdjust="spacingAndGlyphs" stroke="#111" stroke-width="0.15">FMO control</text>
<text x="485.19" y="263.10" font-size="6.9" fill="#ff1010" font-weight="normal" textLength="51.03" lengthAdjust="spacingAndGlyphs" stroke="#ff1010" stroke-width="0.15">CD226 expression</text>
</svg></body></html>
